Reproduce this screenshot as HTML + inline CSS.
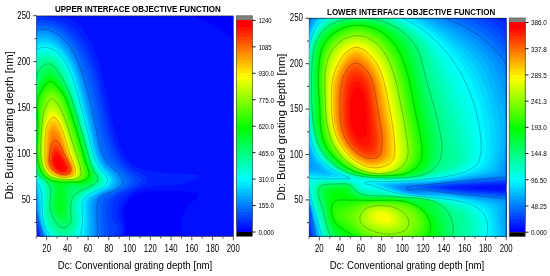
<!DOCTYPE html>
<html lang="en"><head><meta charset="utf-8"><title>Objective functions</title>
<style>html,body{margin:0;padding:0;background:#fff}svg{display:block}</style></head>
<body>
<svg width="550" height="276" viewBox="0 0 550 276" font-family="'Liberation Sans', Arial, sans-serif" fill="#000" stroke="none">
<clipPath id="cL"><rect x="36.7" y="15.9" width="196.6" height="220.4"/></clipPath>
<g clip-path="url(#cL)">
<rect x="35.7" y="14.9" width="198.6" height="222.4" fill="#0000ff"/>
<path fill="#0010ff" d="M35.7 14.9l153.9 0l1.1 1.2l5 1.4l6 2.1l5.3 2.3l6 3l8.5 5l5.8 4l5.3 4l1.1 0.5l0 198.5l-52.2 0l-0.3 -2l-0.2 -5l0.3 -7l0.7 -4l0.8 -3l1.6 -4l1.6 -3l2.1 -3l2.7 -3l2.3 -2l4.6 -3.4l1.8 -2.6l0.2 -1.2l-1 -0.8l-2 -0.1l-5 -0.9l-12 -1.1l-21 0.3l-11 0.6l-4 0.6l-2.8 0.6l-3.2 1l-3 1.4l-3 1.9l-2 1.7l-2 2.3l-1.2 1.7l-1 2l-0.7 2l-0.6 4l0 6l1.4 14l-0.8 4l-0.8 2l-86.1 0l-2.2 -9.5z"/>
<path fill="#0021ff" d="M35.7 14.9l20 0l5 1.4l8 2.6l5 2.5l5 3.7l4.6 4.8l3.6 5l3.4 6l2.8 6l3 8l3.2 10l4.2 16l8.2 37.7l3 11.6l3 9.8l3 8.3l3 6.4l2 3.2l3.3 4l3.7 3l5.8 3l5.9 2l6.3 1.5l5 0.8l7 0.6l26.4 1.1l7.6 1l1 0.4l0.6 0.6l0 1l-0.6 0.9l-1.5 1.1l-4.5 2.2l-7 2.1l-4 0.8l-7 0.8l-12 0.7l-7 0.7l-10 1.8l-4 1.2l-4 1.6l-5.2 3.1l-2.8 2.3l-2.6 2.7l-2.1 3l-1 2l-1.8 5l-0.5 3l-0.1 3l0.2 2l0.6 3l2.5 7l0.4 4l-1.1 3l-0.5 0.9l-2 2.1l-81.9 0l-3.1 -12.1z"/>
<path fill="#0031ff" d="M35.7 15.9l0 -0.4l3 -0.3l6 1l12 2.9l4 1.4l4 1.8l5 3l4.5 3.6l4.5 4.6l4.1 5.4l3.7 6l3.5 7l3 7l3.1 9l2.4 8l2.5 10l6.7 31l3 12.1l4 13.2l3.9 9.7l2 4l2.1 3.4l2 2.7l2.6 2.9l2.4 2.1l3 2.1l11 6.2l1.9 1.6l1.2 2l0.3 2l-0.3 1l-0.8 1l-1.3 1l-12.9 7l-8.2 5l-2.6 2l-1.5 2l-0.9 2l-1.6 6l-0.5 4l0 3l0.6 3l1.3 3l3.3 5.7l0.4 1.3l0.3 2l-0.5 2l-0.8 1l-4.3 4l-77.3 0l-1.6 -7l-2.2 -7.6z"/>
<path fill="#0042ff" d="M35.7 19.9l0 -0.2l2 -0.3l3 -0.1l8 0.9l7 1.8l6 2.7l5.1 3.2l4.9 4.1l5 5.5l4.7 6.4l3.6 6l3.6 7l3.1 7.5l2.6 7.5l2.3 8l2.1 8.1l6.7 30.9l2.9 12l3.3 11l3.5 9l2 4l2.3 4l2 3l2.3 2.9l5 4.7l10.1 7.4l1.8 2l0.4 1l0.1 1l-0.3 1l-2.1 2l-2.7 2l-7.3 4.2l-9 3.9l-2.9 1.9l-1.1 1l-2 3l-1.6 5l-0.9 5l0.1 4l0.7 4l1.2 3l1.1 2l3 4l0.5 1l0.2 1l-0.2 1l-0.7 1l-3.4 3.3l-1.9 2.7l-71.5 0l-1.7 -7l-2.9 -10z"/>
<path fill="#0052ff" d="M37.2 22.9l3.5 -0.4l3 -0.1l6 0.7l5.9 1.8l5.1 2.6l5 3.5l5.2 4.9l4.8 5.7l4.3 6.3l3.4 6l3.3 6.7l3 7.3l3 8.7l4 14.9l6.5 30.4l2.7 11l2.9 10l2.6 7l3.5 7l4 6l4.5 5l9.9 9l1.6 2l0.4 1l0.2 1l-0.6 2l-1.2 1.4l-2 1.6l-4 2.3l-10 4.7l-3.2 2l-3.5 3l-2.5 3l-1.3 3l-0.9 4l-0.1 4l1.8 17l-0.2 4l-0.9 4l-65.8 0l-5.4 -19.6l0 -194.2z"/>
<path fill="#0063ff" d="M40.6 24.9l5.1 0l5 0.9l5 2l5 2.9l5 4l4.1 4.2l3.9 5l3.9 6l3.7 7l3.1 7l3 8l3.3 10l4.3 17l8.7 40.3l2 7.1l2 5.5l2.5 5.1l2.8 4l3.7 4l11.4 11l1.7 2l1.1 2l0 2l-0.4 1l-0.8 1l-2.4 2l-6.7 4l-9.9 5.4l-5.3 2.6l-1.2 1l-1.1 2l-0.4 2l-0.3 6l0.1 5l1 15l0 4l-0.5 4l-61.1 0l-6.2 -22.4l0 -188.9z"/>
<path fill="#0073ff" d="M35.7 27.9l5 -0.9l5 0.1l5 1.2l5 2.2l5 3.3l5 4.4l4.9 5.7l4 6l3.7 7l2.9 7l3.9 11l3.1 10l5.1 20l8.4 39.8l1.2 4.2l1.8 5l2 4l2.8 4l2.9 3l9 8l3.5 4l1.8 3l0.3 1l-0.1 1l-0.5 1l-1.7 2l-3.5 3l-3.1 2l-4.4 2.3l-3 1.4l-6.4 2.3l-1.8 1l-1 1l-1.1 2l-0.5 2l-0.5 8l0.1 5l0.8 14l-0.1 4l-0.4 4l-57.1 0l-5 -17l-2 -8.7z"/>
<path fill="#0084ff" d="M36.3 29.9l4.4 -0.8l5 0.2l5 1.4l5 2.5l5 3.5l4.5 4.2l4.1 5l3.9 6l3 6l3 7l3.2 9l3.7 12l5.3 21l8.3 39l2.1 7l1.9 4.3l3 4.9l3 3.4l7 6l2.5 2.4l2.3 3l0.9 2l0.5 2l-0.1 2l-1 2l-1.7 2l-2.7 2l-3.7 2l-11 4.1l-1.5 0.9l-2 2l-1.1 2l-0.8 3l-0.5 4l-0.1 5l0.9 17l-0.1 4l-0.4 4l-53.7 0l-0.3 -1l-4.8 -16l-1.5 -7l-1.1 -6.1l0 -176.7z"/>
<path fill="#0094ff" d="M37.5 31.9l4.2 -0.6l2 0l3 0.5l4 1.3l5 2.6l5 3.8l4 3.9l4 5.1l3.4 5.4l3.1 6l2.9 7l3.1 9l3 10l6.1 24l7.5 35l1.3 5l1.6 4.9l2 4.2l3 4.6l3 3.2l7.8 7.1l1.6 2l1.6 3l0.5 2l-0.1 2l-0.7 2l-1.7 2l-2 1.5l-2.8 1.5l-9.2 3.5l-3 1.5l-1.5 1l-1.9 2l-1.8 3l-0.9 3l-0.3 4l0.2 6l0.7 14l-0.5 9l-50.5 0l-3.3 -10l-2.9 -11l-2.3 -14.8l0 -168.6z"/>
<path fill="#00a5ff" d="M39.2 33.9l4.5 -0.2l4 0.7l5 2l4 2.4l4 3.3l4 4.2l3.5 4.6l3.6 6l2.5 5l2.9 7l3 9l3 10l5.1 20l8.4 38.3l2.2 7.7l2.1 5l2.7 4.4l3 3.6l6.5 6l1.8 2l2 3l0.7 2l0.2 2l-0.4 2l-1.2 2l-1.1 1l-3.5 2.2l-9 3.7l-3 1.5l-3.4 2.6l-2.5 3l-1 2l-0.7 3l0 4l0.4 7l0.4 10l-0.3 11l-47.6 0l-4.4 -13l-2.3 -10l-2.6 -17.9l0 -161.1z"/>
<path fill="#00b5ff" d="M37.2 36.9l2.5 -0.7l2 -0.2l4 0.2l4 1.2l5 2.5l4 2.9l4.2 4.1l4 5l3.8 6.1l2.9 5.9l2.5 6l2.4 7l2.7 9l6 23l3.9 17l4.6 21.1l2.3 7.9l1.7 4.1l3 5l3 3.6l7.3 7.3l1.4 2l1 2l0.4 2l-0.1 2l-1 2l-1 1.2l-2 1.6l-2.2 1.2l-10.9 5l-4.2 3l-2.8 3l-1 2l-0.6 3l0 3l0.4 6l0.5 9l-0.3 14l-44.7 0l-2.2 -5.4l-2.2 -6.6l-2.2 -9l-0.9 -6l-1.2 -11l-1.5 -6.9l0 -154.5z"/>
<path fill="#00c5ff" d="M38.7 38.9l4 -0.6l4 0.4l5 1.8l4 2.3l4 3.2l4 4.3l3.4 4.6l3.6 6l2.8 6l2.3 6l2.3 7l2.9 10l6.2 24l7.5 33.3l2.1 7.7l2.2 5l2.7 4.7l3 3.7l6.4 6.6l1.5 2l0.9 2l0.4 2l-0.2 2l-1 1.9l-1 1.1l-1.2 1l-2.8 1.7l-9 4.3l-3.5 2l-4 3l-1.7 2l-0.9 2l-0.5 3l0.1 3l0.5 7l0.4 7l-0.5 15l-41.9 0l-2.9 -7l-2 -6l-1.3 -5l-0.8 -5l-1.8 -17l-0.9 -4l-1.3 -4.2l0 -148.7z"/>
<path fill="#00d6ff" d="M40.6 40.9l4.1 -0.2l4 0.8l4 1.7l4 2.5l3.6 3.2l3.4 3.9l3.6 5.1l2.9 5l2.4 5l2.3 6l5.1 17l7 27l7.4 32l1.8 6l2.1 5l2.4 4.1l3 3.8l5.8 6.1l1.4 2l0.9 2l0.4 2l-0.3 2l-1.2 2l-1 1l-4 2.7l-12.4 6.3l-3.6 2.6l-2 2.3l-0.9 2.1l-0.4 3l0.1 4l0.7 7l0.2 6l-0.6 8l-0.1 7l-39 0l-3 -6.2l-2.6 -7.8l-0.9 -4l-0.9 -5l-1.1 -14l-0.5 -4l-1.2 -5l-1.8 -4.9l0 -143.4l2 -0.9z"/>
<path fill="#00e6ff" d="M38.4 43.9l2.3 -0.7l2 -0.2l4 0.2l4 1.1l4 2.2l4 3.1l4 4.3l3.6 5l3 5l2.3 5l2.4 6l5.2 17l7.1 27l7.4 31.7l1.9 6.3l2.1 4.8l2 3.5l2.7 3.7l6.3 7l1.6 3l0.3 2l-0.4 2l-1.3 2l-1 1l-4.6 3l-12 6l-2.9 2l-1.8 2l-1.3 3l-0.4 3l0.1 4l0.6 7l0.1 6l-0.8 8l0 7l-36.2 0l-3.2 -6l-1.6 -4l-1.2 -4l-1 -4.5l-0.7 -4.5l-0.8 -14l-0.6 -5l-1.6 -6l-2.3 -5.2l0 -138.5z"/>
<path fill="#00f7ff" d="M39.6 45.9l3.1 -0.7l4 0.1l4 1.1l4 2.1l4 3.3l3.8 4.1l3.2 4.5l3 5.2l2 4.3l2.4 6l5.2 17l5.9 22l8.5 34.9l2 6.9l2 4.9l2.4 4.3l2.6 3.6l5.5 6.4l1.6 3l0.3 2l-0.5 2l-0.9 1.5l-1.5 1.5l-4.5 2.9l-8.6 4.1l-3.7 2l-2.7 2l-1.7 2l-1.2 3l-0.4 3l0 4l0.5 6l0.3 7l-1.3 9l0.1 6l-33.2 0l-2.1 -3.2l-1.4 -2.8l-1.6 -3.7l-1.1 -3.3l-1 -4l-0.9 -6l-0.6 -15l-0.8 -6l-0.7 -3l-1.1 -3l-2.8 -5.2l0 -134z"/>
<path fill="#00fff7" d="M40.7 47.9l3 -0.6l4 0.2l3 0.9l4 2.2l4 3.3l3 3.3l3.4 4.7l2.8 5l2.4 5l2.2 6l5.3 17l6.5 24l8.4 33.8l2 6.2l2 4.6l1.9 3.4l7.2 9l1.6 3l0.3 2l-0.6 2l-1.4 2l-1.1 1l-3.9 2.5l-12 5.8l-3 2.2l-2.1 2.5l-1.2 3l-0.5 4l0.8 12.6l-0.1 4.4l-1.6 9l0.1 5l-30 0l-2.4 -3.2l-2 -3.5l-2 -5l-1 -3.5l-1.2 -7.8l-0.5 -16l-0.7 -6l-1.1 -4l-0.8 -2l-1.1 -2l-2.6 -3.8l0 -129.8l2 -1.2z"/>
<path fill="#00ffe6" d="M41.6 49.9l3.1 -0.5l4 0.4l4 1.6l3 1.9l3 2.7l3.4 3.9l2.7 4l2.7 5l2.2 4.9l2.3 6.1l5.9 19l5.5 20l8.3 32.6l2 6.8l2 5l1.9 3.6l6.9 9l1.5 3l0.2 2l-0.6 2l-0.9 1.4l-1.6 1.6l-3.4 2.2l-8.3 3.8l-3.8 2l-2.7 2l-2.2 2.5l-1.2 2.5l-0.9 4l-0.1 4l0.7 8l0.1 3l-0.2 3l-1.7 8l-0.7 6l-26.2 0l-2.8 -3.4l-2 -3.2l-2 -4.4l-1 -3.2l-1 -4.8l-0.4 -4l-0.3 -17l-0.9 -7l-0.7 -3l-0.9 -2l-1.4 -2l-3.4 -4.2l0 -125.7l3 -2z"/>
<path fill="#00ffd6" d="M42.4 51.9l3.3 -0.4l3 0.3l4 1.5l3 2l3 2.8l3 3.6l2.7 4.2l2.3 4.3l2.5 5.7l2.3 6l5.7 18l5 18l9.5 36l2 6.5l1.4 3.5l1.6 3l6.6 9l1.4 3l0.2 2l-0.7 2l-0.6 1l-1.9 1.8l-3.4 2.2l-8.6 4l-3.6 2l-2.6 2l-2.3 3l-1.4 3l-0.7 4l0 4l0.7 8l0 3l-0.4 3l-2.5 11l-0.7 2l-21.9 0l-2.6 -2.6l-3 -4.1l-2 -4l-1.6 -5.3l-0.6 -4l-0.4 -4l-0.1 -17l-0.3 -4l-0.6 -4l-0.6 -2l-1 -2l-5.8 -6.5l0 -121.7l3 -2.3z"/>
<path fill="#00ffc5" d="M43.1 53.9l3.6 -0.4l3 0.5l3 1.3l3 2l2.7 2.6l2.5 3l2.5 4l2.7 5l2.6 5.9l2.3 6.1l6.1 19l5.1 18l8.8 33l2.2 7l2.6 6l1.9 3l4.4 6l1.3 3l0.1 2l-0.2 1l-1.2 2l-0.9 1l-3.5 2.4l-9 4.2l-3 1.7l-3.4 2.7l-2.4 3l-1.4 3l-0.8 4l0 4l0.7 9l-0.3 4l-1.4 5.9l-1.7 5.1l-1.8 3l-16.6 0l-3.9 -3.3l-2.9 -3.7l-1.7 -3l-1.4 -3.6l-1 -4.4l-0.8 -9l0.1 -17l-0.4 -4l-0.7 -3l-0.9 -2l-0.7 -1l-4.6 -4.3l-2 -2.4l0 -117.6l3 -2.7l2 -1.1z"/>
<path fill="#00ffb5" d="M43.8 55.9l2.9 -0.4l3 0.5l3 1.2l3 2.1l2.6 2.6l2.2 3l2.5 4l2.7 5.2l4.5 10.8l6 18l16.5 58.7l2.3 5.3l1.7 2.9l4.4 6.1l1.2 3l0 2l-0.3 1l-1.3 2l-1 1l-3.1 2l-8.4 4l-3.6 2l-3.7 3l-2.3 3l-1.5 3l-0.9 4l0 4l0.7 7l0.1 3l-0.7 5l-1.3 4l-1.2 3l-2.1 3.1l-2.5 1.9l-8.9 0l-3.6 -1.9l-2 -1.5l-2 -1.9l-2.1 -2.7l-1.9 -3.5l-1 -2.7l-1 -4.4l-0.6 -5.4l-0.3 -5l0.3 -15l-0.3 -4l-0.6 -3l-0.5 -1.3l-1.1 -1.7l-5.9 -5.3l-2 -2.6l0 -113.4l2 -2.2l2 -1.6l2 -1.2z"/>
<path fill="#00ffa5" d="M44.4 57.9l3.3 -0.3l3 0.6l3 1.5l2 1.6l2.3 2.6l2.7 3.9l3 5.3l2.4 4.8l4.5 11l5.4 16l16.5 58l2.2 5l5.3 8l1.1 3l0 2l-0.4 1l-0.5 1l-1.5 1.6l-3 2l-9 4.3l-3.6 2.1l-3.6 3l-2.4 3l-1.4 3l-0.9 4l0 4l0.7 7l0 5l-1.4 5l-2.4 4.6l-1.2 1.4l-1.8 1.5l-3 1l-2 0.1l-2 -0.3l-2 -0.6l-2 -1l-2 -1.4l-2 -1.9l-2 -2.4l-2 -3.7l-1 -2.9l-1 -4.6l-0.6 -4.8l-0.3 -5l0.5 -15l-0.3 -3l-0.7 -3l-0.8 -2l-0.7 -1l-2 -2l-4.8 -4l-2.3 -3.1l0 -108.8l2 -2.7l2 -1.9l2.2 -1.5z"/>
<path fill="#00ff94" d="M45.1 59.9l2.6 -0.3l3 0.5l3 1.6l2 1.8l2 2.4l3 4.6l3 5.3l2.5 5.1l4.2 10l4.8 14l16.5 57.6l2.2 5.4l5.1 8l1.1 3l-0.2 2l-0.4 1l-1.8 2.1l-3 2l-12 6.1l-3.7 2.8l-2.7 3l-1.7 3l-1.1 4l-0.2 5l0.7 6l0.1 5l-0.9 4l-0.9 2l-1.6 2.5l-1 1.2l-1.7 1.3l-1.3 0.7l-2 0.5l-3 -0.1l-2 -0.7l-2 -1.1l-3 -2.5l-2.1 -2.8l-1.9 -3.8l-1 -3.2l-1.1 -5l-0.6 -4l-0.2 -4l0.6 -14l-0.3 -3l-0.7 -3l-1.6 -3l-1.9 -2l-5.2 -4.1l-1.6 -1.9l-1.4 -2.4l0 -103.7l2 -3.3l2 -2.3l3 -2.3z"/>
<path fill="#00ff84" d="M46 61.9l2.7 -0.3l2 0.5l2 1l2.1 1.8l2.9 3.6l3 4.7l3 5.2l3 6l4.3 10.5l4.1 12l9.1 31l7 25l2.5 6l3.7 6l1.4 3l0.1 2l-0.2 1l-1 1.6l-1.4 1.4l-3.1 2l-12.2 6l-3.9 3l-2.4 2.7l-1.7 3.3l-0.9 4l-0.2 4l0.6 6l0.2 5l-0.5 3l-1.5 3.2l-1 1.3l-2 1.8l-1.2 0.7l-1.8 0.6l-3 -0.1l-3 -1.3l-1.5 -1.2l-1.5 -1.6l-2 -2.9l-2 -4.1l-1.5 -4.4l-0.9 -4l-0.4 -4l-0.1 -3l0.8 -9l0 -3l-0.3 -3l-0.8 -3l-1 -2l-1.7 -2l-7.1 -6l-1.5 -2l-1.5 -3l0 -97.2l1.4 -3.8l2.6 -3.7l3 -2.7l2 -1.2z"/>
<path fill="#00ff73" d="M47.3 63.9l2.4 0l2 0.8l2 1.6l2 2.2l3 4.1l3.4 5.3l3.3 6l2.8 6l3.8 10l3.3 10l9.1 31l6.2 22l2.1 5.4l4.2 7.6l0.8 2l0.1 2l-0.4 1l-0.7 1.1l-2 1.9l-4 2.3l-12.3 5.7l-2.7 1.9l-2 2.1l-1.6 3l-1.1 4l-0.4 4l0.2 5l0.4 6l-0.2 3l-1.3 3.3l-2 2l-2 1.2l-1 0.3l-1 0.2l-2 -0.3l-2 -1l-3 -3l-2 -2.8l-2 -3.6l-1.3 -3.3l-1.1 -4l-0.3 -3l-0.1 -3l0.9 -9l0 -3l-0.3 -3l-0.5 -2l-1 -2l-1.4 -2l-2.9 -2.7l-4.1 -3.3l-2 -2l-1.9 -3l-1 -2.7l0 -88l1.3 -3.3l0.3 -4l0.8 -2l1.2 -2l1.6 -2l2.2 -2l1.6 -1z"/>
<path fill="#00ff63" d="M45.9 66.9l1.8 -0.6l1 -0.1l2 0.5l2 1.3l2 1.9l3 3.6l3.7 5.4l3.3 5.8l3 6.2l3.6 9l3.6 11l8.9 30l6.2 22l1.7 4.6l4.2 8.4l0.7 2l-0.1 2l-1.2 2l-2.4 2l-3.2 1.8l-5 2.1l-4 1.2l-3 0.5l-4 -0.4l-1 0.2l-0.6 0.6l-0.4 4l-2 8.7l-0.4 6.3l0.3 7l-0.1 3l-0.5 2l-1.3 2.1l-2 1.4l-1 0.3l-2 0.1l-1 -0.3l-2 -1.1l-3 -3l-2 -2.8l-1.4 -2.7l-1.5 -4l-0.6 -3l-0.2 -5l1 -8l0.1 -3l-0.3 -3l-0.5 -2l-1.1 -2l-1.7 -2l-7.2 -6l-2 -2l-1.9 -3l-1.7 -4.7l0 -83.1l2.5 -5.2l0.8 -4l0.7 -2l1.3 -2l1.7 -1.8z"/>
<path fill="#00ff52" d="M48.6 68.9l2.1 0.4l2 1.2l2 1.7l3 3.4l3 4.3l2.4 4l2.6 4.7l2.5 5.3l3.1 8l3.9 12l8 27l6.2 22l2.3 6l2.8 6l0.9 3l-0.3 2l-1.4 2l-3 2.2l-5 2.2l-3 0.8l-2 0.3l-2 0l-6 -1.1l-2 0.1l-1.4 0.5l-0.8 1l-0.2 1l0.8 6l-1 11l0 8l-0.3 3l-0.5 2l-0.6 1.1l-0.8 0.9l-1.2 0.7l-1 0.3l-2 -0.3l-1 -0.4l-2 -1.4l-2 -2l-1.3 -1.9l-1.5 -3l-1.1 -3l-0.5 -3l-0.1 -4l1.2 -11l-0.2 -3l-0.4 -2l-0.5 -1l-1.8 -2l-7.3 -6l-3.5 -3.4l-1.1 -1.6l-1.1 -2l-1.8 -5.8l0 -78.4l3.5 -6.8l1.7 -5l1.1 -2l1.7 -1.8l1.6 -1.2l1.4 -0.7z"/>
<path fill="#00ff42" d="M46.5 71.9l2.2 -0.5l2 0.4l2 1l3 2.5l3 3.7l3 4.5l3 5l3 5.9l2.9 7.5l4.1 12.6l7.1 23.4l7 25l4.4 11l0.9 3l-0.1 2l-0.4 1l-0.9 1.3l-3 2.3l-4 1.7l-3 0.6l-2 0.2l-7 -0.9l-3 0l-2 0.3l-1.2 0.5l-0.8 1l-0.4 2l0.9 7l-0.2 7l-0.5 11l-0.4 2l-1.1 2l-1.3 0.9l-2 0.2l-2 -0.8l-2.5 -2.3l-1.3 -2l-1.2 -2.5l-0.8 -2.5l-0.5 -3l0.1 -4l1.2 -9l0 -4l-0.3 -2l-0.4 -1l-0.8 -1l-9.4 -7l-2.2 -2l-1.7 -2l-1.3 -2l-0.9 -2l-1 -3l-1 -4.1l0 -73.4l7 -14.1l2 -2.3z"/>
<path fill="#00ff31" d="M47.7 73.9l2 -0.1l2 0.5l2 1.2l3 2.9l3 3.9l3 4.6l3 5.1l2 4.1l2.3 5.8l2.9 9l7.8 25.3l7.2 25.7l4.1 11l0.9 3l0 2l-0.2 0.9l-1 1.7l-2 1.7l-3 1.5l-3 0.8l-3 0.3l-8 -0.6l-3 0.1l-3 0.5l-1 0.7l-0.8 1.4l-0.3 3l0.8 8l0.1 4l-0.3 9l-0.5 2.7l-0.6 1.3l-0.4 0.6l-1 0.8l-1 0.2l-1 -0.2l-2 -1.3l-1 -1.2l-2 -3.9l-0.9 -4l0.1 -4l1.4 -9l0 -4l-0.5 -3l-0.7 -1l-1.4 -1l-4 -2.2l-4 -2.7l-3.5 -3.1l-1.7 -2l-1.7 -3l-1.2 -3l-1.1 -4l-0.8 -4l0 -67.5l2.4 -5.5l5.6 -9.9l2 -2.1z"/>
<path fill="#00ff21" d="M48.5 75.9l2.2 0.1l2 0.7l2 1.5l2 2l3 4l4 5.9l2 3.5l2 4.2l2.3 6.1l4.7 14.7l6 19.6l6.3 22.7l4 11l0.8 3l0.1 2l-0.2 1l-1 1.9l-2 1.7l-3 1.4l-2 0.6l-3 0.3l-8 -0.2l-5 0.1l-2 0.4l-1.5 0.8l-0.9 2l-1 5l0.1 2l1.1 6l0.3 3l0 3l-0.3 3l-0.7 3l-1.1 1.4l-1 0.1l-1 -0.6l-1 -1.1l-1 -1.7l-0.8 -2.1l-0.5 -3l0.2 -3l1.7 -7l0.3 -2l-1 -7l-0.4 -1l-1.2 -1l-5.3 -2.2l-4 -2.4l-2.9 -2.4l-2.7 -3l-1.8 -3l-1.5 -4l-1 -4l-0.9 -5l-0.2 -2.3l0 -13.9l0.7 -14.8l-0.2 -5l-0.5 -5l0 -21.1l1 -3.1l1.7 -3.8l5.3 -9.2l2 -2.4l1 -0.7z"/>
<path fill="#00ff10" d="M48.5 77.9l1.2 -0.2l2 0.4l2 1.1l2 1.8l3 3.6l4 5.5l2.3 3.8l2 4l2.6 7l5.1 15.7l6 19.8l5.4 19.5l4.5 13l0.3 3l-0.4 2l-0.8 1.2l-2.1 1.8l-2.9 1.3l-3 0.7l-3 0.2l-5 -0.1l-7 0.2l-3 0.5l-1 0.5l-0.6 0.7l-0.4 1.3l-1 0.9l-1 -1.2l-0.2 -1l-0.8 -1l-2.4 -1l-4.6 -1.3l-2 -0.9l-4 -2.6l-2.4 -2.2l-1.6 -2l-1.8 -3l-1.2 -3l-1.2 -4l-1.1 -6l-0.4 -6l0 -6l0.9 -20l-0.2 -6l-1 -8.6l0 -10.9l0.7 -3.5l1 -3l1.3 -3.1l2 -3.8l3 -4.8l1.8 -2.3l1.2 -1.1zM59.6 202.9l0.1 -0.2l1 0.2l0.5 1l0.1 1l-0.1 1l-0.5 1l-1 0.1l-0.6 -1.1l-0.3 -1l0.2 -1z"/>
<path fill="#00ff00" d="M48.3 79.9l1.4 -0.3l2 0.3l2 1.1l2 1.9l4 4.7l3 4l2 3.3l2 4l2.2 6l6.8 21l4 13.2l5.8 20.8l4.1 12l0.4 2l-0.1 2l-0.7 2l-1.5 1.6l-2 1.2l-3 1.1l-3 0.6l-3 0.2l-10 0.1l-6 0.3l-7 -1.4l-4 -1.4l-4 -2.6l-1.8 -1.7l-1.7 -2l-2.2 -4l-1.8 -5l-1.2 -6l-0.5 -7l0 -7l1 -19l-0.2 -6l-1.1 -12l0.2 -6l1.4 -6l2.6 -6l4.5 -7l1.8 -2z"/>
<path fill="#10ff00" d="M48.4 81.9l1.3 -0.4l2 0.3l1 0.4l2 1.6l4 4.2l3 3.7l2 3l2 3.8l2.5 6.4l6.5 20l5 16.6l4.5 16.4l4.4 13l0.4 2l0.1 2l-0.4 1.5l-1 1.6l-2 1.6l-2 1l-3 1l-3 0.4l-17 0.2l-6 -0.8l-4 -1.2l-4 -2.2l-3.2 -3.1l-2.5 -4l-2 -5l-1.5 -7l-0.6 -8l0.1 -7l1 -18l-0.1 -6l-0.8 -11l0.2 -6l0.5 -3l0.8 -3l2.1 -5l2 -3.5l2 -2.8l2 -2.4z"/>
<path fill="#21ff00" d="M49.2 83.9l1.5 -0.2l2 0.6l4 3.3l3 3.2l2 2.5l2 3.1l1.7 3.5l2.3 6l7 21.5l4 13.2l5.4 19.3l3.6 10.7l0.5 2.3l-0.1 2l-0.9 2l-0.8 1l-1.7 1.3l-2 1.1l-3 0.9l-3 0.4l-8 0.2l-8 -0.1l-7 -1l-4 -1.4l-3.7 -2.4l-2.8 -3l-2.2 -4l-1.8 -5l-1.3 -7l-0.6 -8l0.2 -6l1 -18l-0.6 -17l0.4 -6l0.5 -3l0.9 -2.9l2.3 -5.1l1.7 -2.7l2 -2.5l2 -2z"/>
<path fill="#31ff00" d="M48 86.9l1.7 -0.8l1 -0.1l1 0.1l2 0.9l2 1.5l3 2.8l3.6 4.6l1.7 3l1.7 4l8 24.1l4 13l5.4 18.9l3.6 11l0.5 3l-0.2 2l-0.4 1l-1.6 2l-3.1 2l-4.2 1.2l-6 0.4l-10 -0.2l-7 -0.8l-4 -1.2l-2 -0.9l-2 -1.4l-2.2 -2.1l-2.5 -4l-2 -5l-1.5 -7l-0.7 -9l0.2 -7l1 -17l-0.2 -15l0.2 -6l1 -5l1.8 -5l2.9 -4.7l2 -2.3z"/>
<path fill="#42ff00" d="M48.4 88.9l1.3 -0.6l2 -0.1l2 0.7l2 1.3l2 1.7l2.7 3l1.4 2l1.9 3.6l2 5l6 18.1l13.8 45.3l0.6 3l0 2l-0.7 2l-0.7 1l-2 1.8l-2 1.1l-2 0.6l-2.9 0.5l-7.1 0.3l-8 -0.4l-6 -0.7l-4 -1.2l-3.6 -2l-2.8 -3l-2.4 -4l-1.5 -4l-1.5 -7l-0.6 -9l0.1 -7l1.1 -17l0 -13l0.3 -6l1.1 -6l1.8 -5l1.1 -2l1.9 -2.7z"/>
<path fill="#52ff00" d="M48.6 90.9l1.1 -0.5l2 -0.2l1 0.2l2 0.9l3 2.4l3 3.6l2 3.6l2 4.8l7 21.1l11.9 39.1l1.5 6l-0.1 2l-0.2 1l-1.2 2l-1 1l-1.9 1.2l-2 0.9l-2 0.4l-6 0.4l-9 -0.2l-7 -0.9l-4 -1.2l-3 -1.7l-2.9 -2.9l-2.4 -4l-1.5 -4l-1 -4l-0.7 -4l-0.5 -9l0.2 -7l1.1 -16l0.2 -11l0.4 -6l1 -6l1.6 -5l0.9 -2l1.6 -2.4l1.6 -1.6z"/>
<path fill="#63ff00" d="M48.9 92.9l1.8 -0.7l1 0l2 0.4l2 1.2l3.1 3.1l2.9 4.7l2 4.7l4.8 13.6l12.8 41l2.6 10l0.2 2l-0.4 2l-1.1 2l-1 1l-1.6 1l-2.3 0.9l-3 0.5l-7 0.2l-7 -0.3l-6 -0.9l-4 -1.2l-3 -1.8l-2.4 -2.4l-2.5 -4l-1.5 -4l-1 -4l-0.6 -4l-0.5 -9l0.3 -8l1 -15l0.5 -13l1.1 -7l1.7 -6l2 -4l1.7 -2z"/>
<path fill="#73ff00" d="M49.2 94.9l1.5 -0.6l1 -0.1l1 0.1l2 0.8l1.2 0.8l1.9 2l3 5l2.9 6.8l3.7 10.2l13.3 41.8l2.2 9.2l0.1 2l-0.3 2l-1.1 2l-1.9 1.5l-2 0.9l-4 0.7l-7 0.2l-7 -0.5l-5 -0.7l-4 -1.3l-3 -1.9l-2.7 -2.9l-2.2 -4l-1.3 -4l-0.9 -4l-0.6 -4l-0.4 -9l0.3 -7l1.8 -27l1.1 -6l2.1 -7l1.8 -3.5l1 -1.3z"/>
<path fill="#84ff00" d="M49.7 96.9l1 -0.5l2 -0.1l1.4 0.6l1.3 1l1.3 1.4l2 3l3 5.8l2.8 6.8l2.9 8l6.2 20l4.8 14l1.8 6l1.2 5l0.6 4l0 2l-0.6 2l-0.7 1l-1.1 1l-1.9 1l-3 0.7l-3 0.3l-6 0l-7 -0.6l-5 -0.9l-3 -1.1l-3 -2l-2.2 -2.4l-2.2 -4l-1.4 -4l-0.9 -4l-0.5 -4l-0.4 -9l0.3 -8l1.8 -24l1.2 -6l2.3 -6.9l2 -4.1z"/>
<path fill="#94ff00" d="M51.2 98.9l1.5 -0.1l1 0.6l3 3.3l3 4.5l3.3 6.7l4.1 11l5.6 18.2l5.1 14.8l2.1 7l1.2 7l0 2l-0.5 2l-0.9 1.1l-2 1.3l-3 0.9l-4 0.5l-5 0l-7 -0.7l-5 -1l-3 -1.2l-3 -2l-2.4 -2.9l-2 -4l-1.3 -4l-1.1 -8l-0.3 -9l0.4 -9l1.8 -21l1 -5l2.9 -7.2l2 -3.6l1 -1.2z"/>
<path fill="#a5ff00" d="M50.9 102.9l0.8 -0.3l1 0l1 0.5l2 1.6l3 3.6l2 3.3l1.6 3.3l3.9 10l6.5 21l4.6 13l1.8 6l1.2 7l0 2l-0.6 2l-1 1.1l-2 1.2l-2.4 0.7l-3.6 0.4l-5 0.1l-7 -0.7l-5 -1.1l-3 -1.2l-3 -2.2l-1.9 -2.3l-1.7 -3l-1.4 -4l-0.8 -4l-0.5 -4l-0.3 -10l0.5 -11l1.8 -18l0.8 -4l1.5 -3.9l3 -5.1l1 -1.1z"/>
<path fill="#b5ff00" d="M51.6 105.9l1.1 -0.1l1 0.3l1 0.5l2 1.6l3 3.9l2.5 4.8l3.9 10l5.6 18.6l5.4 15.4l1.4 5l1 6l0 2l-0.7 2l-0.9 1l-1.8 1l-2.4 0.7l-4 0.5l-5 0l-6 -0.7l-5 -1.2l-3 -1.3l-2.7 -2l-1.7 -2l-1.8 -3l-1.4 -4l-0.8 -4l-0.4 -4l-0.3 -12l0.7 -11l1.6 -14l1 -5l1.8 -4.3l2 -2.8l2 -1.6z"/>
<path fill="#c5ff00" d="M50.3 108.9l1.4 -0.6l1 -0.1l1 0.2l2 1.1l3 3.1l2.5 4.3l2.2 5l2.3 6l5.6 19l6.2 18l1.3 6l0 2l-0.4 2l-0.7 1.2l-0.9 0.8l-1.1 0.6l-2 0.7l-3 0.5l-5 0.2l-5 -0.4l-5 -1l-4 -1.5l-3 -2l-1.9 -2.1l-1.9 -3l-1.1 -3l-1.2 -6l-0.5 -9l0.1 -10l0.8 -10l1.6 -11l1.1 -4.5l1 -2.4l1 -1.6l1 -1.2z"/>
<path fill="#d6ff00" d="M50.4 110.9l1.3 -0.6l1 -0.1l1 0.2l2 0.9l1.7 1.6l1.3 1.6l2.5 4.4l2.2 5l1.8 5l5.5 18.5l6.1 17.5l0.8 3l0.5 3l0 2l-0.5 2l-0.7 1l-1.2 1l-2.6 1l-2.4 0.5l-5 0.2l-5 -0.4l-5 -1.1l-3.2 -1.2l-2.8 -1.7l-2.4 -2.3l-1.9 -3l-1.2 -3l-0.7 -3l-0.4 -3l-0.4 -9l0 -10l0.7 -9l1.3 -8.6l1.5 -6.4l1.5 -3.3l1 -1.3z"/>
<path fill="#e6ff00" d="M50.2 112.9l1.5 -0.7l1 -0.2l2 0.5l1 0.5l1 0.9l1.7 2l2.3 3.9l2 4.4l2 5.3l5.7 19.4l5.8 16l1.1 5l0.1 2l-0.2 2l-0.5 1l-0.8 1l-1.2 0.9l-4 1.2l-4 0.4l-5 -0.3l-5 -1l-3.3 -1.2l-2.7 -1.5l-2.8 -2.5l-2.1 -3l-1.2 -3l-1 -5l-0.4 -9l0 -10l0.6 -9l1.1 -7l1.8 -7.5l1.6 -3.5z"/>
<path fill="#f7ff00" d="M51.6 113.9l2.1 -0.2l2 1l1 0.8l2 2.6l3 5.7l3.1 8.1l5.5 19l5.8 16l0.6 3l0.1 2l-0.4 2l-0.5 1l-1 1l-1.7 1l-3.8 1l-4.7 0.2l-4 -0.4l-4 -1l-4 -1.6l-3 -2l-2 -2l-2 -3.2l-1 -3l-0.7 -5l-0.3 -13l0.2 -9l0.7 -7l1.1 -5.9l2 -6.4l1 -2l1 -1.4z"/>
<path fill="#fff700" d="M51.2 115.9l1.5 -0.6l1 0l2 1l2 2.2l3 5.2l1.9 4.2l1.4 4l5.9 20l5.3 14l0.7 3l0.3 2l-0.2 2l-0.4 1l-0.6 1l-1.3 1.1l-1.8 0.9l-2.2 0.6l-4 0.4l-4 -0.4l-4 -0.8l-4 -1.5l-2.2 -1.3l-2.8 -2.3l-2 -2.7l-1.3 -3l-0.7 -3l-0.3 -5l-0.1 -15l0.6 -10l0.8 -5l2 -6.5l2 -3.9z"/>
<path fill="#ffe600" d="M51.4 117.9l1.3 -0.8l1 -0.1l2 1.1l2 2.3l3 5.2l3 7.6l5.5 18.7l5.4 14l0.8 3l0.1 2l-0.2 2l-0.4 1l-0.7 1l-1.3 1l-3.2 1.2l-4 0.5l-4 -0.3l-4 -0.9l-3 -1.2l-3 -1.7l-3 -2.6l-2 -2.8l-1 -2.5l-0.6 -2.7l-0.3 -4l0.1 -18l0.5 -8l1 -5l1.3 -4l2 -3.9z"/>
<path fill="#ffd600" d="M51.8 119.9l0.9 -0.6l1 -0.1l1 0.3l1 0.7l3 3.8l2 3.7l2.7 7.2l5 17l5 12l1 3l0.5 4l-0.3 2l-0.5 1l-0.8 1l-1.4 1l-3.2 1.1l-4 0.3l-4 -0.4l-3.5 -1l-3.5 -1.6l-3 -2.1l-2 -2l-1.6 -2.3l-1.1 -3l-0.5 -3l-0.2 -4l0.3 -18l0.5 -7l0.8 -4l1.4 -4l1.4 -2.6z"/>
<path fill="#ffc500" d="M52.4 121.9l1.3 -0.4l1 0.3l1 0.6l2 2.2l2 3.3l3 7.5l5.4 17.5l4.7 11l1 3l0.5 2l0.1 2l-0.5 2l-0.5 1l-0.9 1l-1.6 1l-3.2 0.9l-3 0.2l-4 -0.4l-4 -1.3l-2.9 -1.4l-2.8 -2l-2 -2l-1.4 -2l-1.2 -3l-0.5 -3l-0.1 -3l0.4 -19l0.5 -6.3l1 -4.6l1 -2.6l2 -3.1z"/>
<path fill="#ffb500" d="M53.4 123.9l1.3 0.2l2 1.4l1.7 2.4l1.3 2.3l2 5l5.7 17.7l4.9 11l1 3l0.5 3l-0.2 2l-0.3 1l-0.6 1l-1.1 1l-1.8 1l-2.1 0.6l-3 0.2l-4 -0.5l-3 -0.8l-3.2 -1.5l-2.9 -2l-2 -2l-1.9 -2.9l-0.8 -2.1l-0.5 -3l-0.1 -4l0.7 -18l0.5 -6l0.9 -4l1.3 -2.9l2 -2.4z"/>
<path fill="#ffa500" d="M51.8 126.9l0.9 -0.5l1 -0.2l1 0.2l0.9 0.5l1.1 1l2 3l3 7.2l5.4 15.8l5.4 12l0.5 2l0.3 2l-0.6 2.8l-0.8 1.2l-1.2 1l-2.2 1l-3.8 0.5l-3 -0.3l-3 -0.7l-3 -1.3l-3 -1.9l-2 -1.8l-2 -2.5l-1 -2.1l-0.7 -2.9l-0.2 -4l1.2 -22l0.6 -4l0.7 -2l1.4 -2.9z"/>
<path fill="#ff9400" d="M53.1 128.9l0.6 -0.1l1 0.2l1 0.6l1.2 1.3l1.8 2.9l4 9.7l3.7 10.4l4.4 9l1.5 4l0.4 3l-0.3 2l-0.5 1l-0.8 1l-1.4 1l-3 1l-2 0.1l-3 -0.2l-3.4 -0.9l-2.6 -1.2l-2.7 -1.8l-2.1 -2l-1.6 -2l-1.3 -3l-0.6 -3l-0.1 -4l0.8 -11l1 -10l0.6 -3.3l1 -2.5l1 -1.4z"/>
<path fill="#ff8400" d="M53.6 131.9l1.1 0.1l1 0.7l1 1.1l2 3.3l3 6.3l4.4 11.5l4.1 8l1.2 3l0.7 3l-0.1 2l-0.2 1l-0.6 1l-0.9 1l-2.6 1.3l-2 0.4l-3 0l-3 -0.6l-3 -1.2l-3 -1.9l-2.2 -2l-1.8 -2.4l-1.2 -2.6l-0.6 -3l-0.1 -3l1.2 -13l1.7 -10.1l1 -2.4l1 -1.2z"/>
<path fill="#ff7300" d="M52.9 136.9l0.8 -0.7l1 -0.1l1 0.5l2 2.2l2 3l2 3.9l3.6 9.2l4.4 8.2l1.2 2.8l0.7 3l-0.2 2l-0.3 1l-0.7 1l-1 1l-2.7 1.1l-2 0.3l-3 -0.2l-3 -0.8l-2.8 -1.4l-2.7 -2l-1.9 -2l-1.3 -2l-0.9 -2l-0.6 -3l-0.1 -3l1 -10l1.3 -6.2l1 -3.3z"/>
<path fill="#ff6300" d="M54.2 140.9l0.5 -0.3l1 0l1 0.4l1 0.7l2 2.5l2 3.7l2.9 7l4.1 7.5l1.6 3.5l0.7 3l-0.3 2.2l-1.1 1.8l-1.3 1l-1.6 0.6l-2 0.4l-3 -0.2l-2.9 -0.8l-2 -1l-2.1 -1.4l-2 -1.8l-2 -2.8l-0.9 -2l-0.7 -3l-0.1 -3l1 -9l0.7 -3.2l1 -2.6l1 -1.8z"/>
<path fill="#ff5200" d="M54.3 143.9l1.4 -0.4l1 0.2l1 0.5l2 2.3l2 3.7l2.6 5.7l4.4 7.8l1 2.2l0.6 3l0 1l-0.6 1.7l-1 1.3l-1.8 1l-1.2 0.3l-2 0.2l-2 -0.1l-3 -0.9l-2 -1.1l-2 -1.4l-1.9 -2l-1.4 -2l-0.9 -2l-0.6 -2l-0.3 -3l0.1 -3l0.6 -4l1.4 -5.5l1 -2z"/>
<path fill="#ff4200" d="M53.9 146.9l0.8 -0.6l1 -0.3l1 0.1l1 0.5l1 0.9l2 2.9l2.7 5.5l5.3 9.3l0.8 2.7l0 2l-0.3 1l-0.6 1l-1.1 1l-2.8 0.9l-2 0.1l-2 -0.4l-1.9 -0.6l-1.8 -1l-1.4 -1l-2 -2l-1.4 -2l-1 -2l-0.6 -2l-0.3 -2l0.3 -5l1.5 -6l0.6 -1.4z"/>
<path fill="#ff3100" d="M54.6 148.9l1.1 -0.5l1 0.1l1 0.4l2 2.1l8.1 13.9l1 3l-0.1 2l-0.4 1l-0.8 1l-1.6 1l-2.2 0.4l-2 -0.1l-1.3 -0.3l-2.3 -1l-1.5 -1l-1.9 -1.7l-1.1 -1.3l-1.2 -2l-0.8 -2l-0.4 -2l-0.2 -2l0.3 -3l0.4 -2.2l1 -3.1l1 -1.8z"/>
<path fill="#ff2100" d="M55.7 150.9l1 -0.1l1 0.4l2 1.9l2 3l5.1 8.8l0.8 2l0.3 2l-0.2 1l-0.6 1l-1.4 1.2l-1 0.3l-2 0.2l-3.1 -0.7l-1.9 -1l-2 -1.7l-1.1 -1.3l-1.3 -2l-0.8 -2l-0.5 -2l0 -4l0.7 -3l1 -2.2l1 -1.2z"/>
<path fill="#ff1000" d="M55 153.9l0.7 -0.6l1 -0.2l1 0.3l2 1.7l1.9 2.8l4.1 7l0.8 2l0.2 2l-0.4 1l-0.6 0.8l-1 0.6l-2 0.4l-2 -0.3l-1.3 -0.5l-2.8 -2l-2.3 -3l-1.1 -3l-0.3 -3l0.2 -2l0.6 -2z"/>
<path fill="#ff0000" d="M55.8 155.9l0.9 -0.4l1 0.1l1 0.5l1 1l1.2 1.8l2.8 5.1l1.2 2.9l0 2l-1.2 1.2l-2 0.2l-2 -0.6l-2 -1.3l-2.1 -2.5l-1.2 -3l-0.3 -3l0.6 -2.5z"/>
<path fill="#ff0000" d="M56.5 158.9l1.2 -0.5l1.1 0.5l0.9 1.4l1.6 3.6l0.4 1l0 1.3l-0.4 0.7l-0.6 0.4l-1 0l-1 -0.5l-1 -1l-1.1 -1.9l-0.6 -2l0.1 -2z"/>
<path fill="none" stroke="#000" stroke-opacity="0.45" stroke-width="0.55" d="M35.7 30.1l5 -1l5 0.2l5 1.4l5 2.5l5 3.5l4.5 4.2l4.1 5l3.9 6l3 6l3 7l3.2 9l3.7 12l5.3 21l8.3 39l2.1 7l1.9 4.3l3 4.9l3 3.4l7 6l2.5 2.4l2.3 3l0.9 2l0.5 2l-0.1 2l-1 2l-1.7 2l-2.7 2l-3.7 2l-4 1.6l-5 1.7l-3 1.4l-1.7 1.3l-0.8 1l-1.1 2l-0.9 4l-0.4 5l0 5l0.8 15l-0.1 4l-0.4 4M43.4 236.9l-5.1 -17l-1.5 -7l-1.1 -6.1M35.7 50.3l2 -1.2l2 -0.9l4 -0.9l4 0.2l4 1.4l4 2.4l4 3.6l4 4.9l3.2 5.1l2.5 5l2.3 5.7l5.2 16.3l7.2 26l8.6 34.8l2 6.2l2 4.6l1.9 3.4l7.2 9l1.6 3l0.3 2l-0.6 2l-1.4 2l-1.1 1l-3.9 2.5l-9.5 4.5l-3.6 2l-2.4 2l-1.5 1.9l-0.6 1.1l-0.7 2l-0.4 3l0 4l0.7 12l-0.3 3l-1.3 7l0 6M51.1 236.9l-2.4 -3.2l-2 -3.5l-1.4 -3.3l-1.3 -4l-0.8 -4l-0.7 -5l-0.5 -16l-0.7 -6l-1.1 -4l-0.8 -2l-1.1 -2l-2.6 -3.8M35.7 81.2l1.3 -3.3l0.3 -4l1.4 -3l2 -2.7l2 -2l2 -1.3l2 -0.9l2 -0.2l1 0.1l2 0.8l1 0.7l3 3.1l5 7.1l3 5.1l2.6 5.2l2.4 5.3l2.6 6.7l5.2 16l7.9 27l6.2 22l2.4 6l3.9 7l0.8 2l0.2 1l-0.2 1.2l-0.9 1.8l-2.1 2l-4 2.3l-12.3 5.7l-2.7 1.9l-2 2.1l-1 1.7l-1 2.3l-0.8 4l-0.3 6l0.6 8l-0.1 2l-0.4 2.2l-1 2.1l-2 2l-2 1.2l-1 0.3l-2 0.1l-2 -0.6l-1 -0.6l-3 -3l-3 -4.5l-2.3 -5.2l-0.9 -3l-0.5 -4l-0.1 -4l0.9 -8l0 -3l-0.3 -3l-0.9 -3l-1.2 -2l-1.7 -2l-6.1 -5l-2 -2l-1.9 -3l-1 -2.7M48.4 81.9l1.3 -0.4l2 0.3l1 0.4l2 1.6l4 4.2l3 3.7l2 3l2 3.8l2.5 6.4l6.5 20l5 16.6l4.5 16.4l4.4 13l0.4 2l0.1 2l-0.4 1.5l-1 1.6l-2 1.6l-2 1l-3 1l-3 0.4l-17 0.2l-6 -0.8l-4 -1.2l-4 -2.2l-3.2 -3.1l-2.5 -4l-2 -5l-1.5 -7l-0.6 -8l0.1 -7l1 -18l-0.1 -6l-0.8 -11l0.2 -6l0.5 -3l0.8 -3l2.1 -5l2 -3.5l2 -2.8l2 -2.4zM51.2 98.9l1.5 -0.1l1 0.6l3 3.3l3 4.5l3.3 6.7l4.1 11l5.6 18.2l5.1 14.8l2.1 7l1.2 7l0 2l-0.5 2l-0.9 1.1l-2 1.3l-3 0.9l-4 0.5l-5 0l-7 -0.7l-5 -1l-3 -1.2l-3 -2l-2.4 -2.9l-2 -4l-1.3 -4l-1.1 -8l-0.3 -9l0.4 -9l1.8 -21l1 -5l2.9 -7.2l2 -3.6l1 -1.2zM51.4 117.9l1.3 -0.8l1 -0.1l2 1.1l2 2.3l3 5.2l3 7.6l5.5 18.7l5.4 14l0.8 3l0.1 2l-0.2 2l-0.4 1l-0.7 1l-1.3 1l-3.2 1.2l-4 0.5l-4 -0.3l-4 -0.9l-3 -1.2l-3 -1.7l-3 -2.6l-2 -2.8l-1 -2.5l-0.6 -2.7l-0.3 -4l0.1 -18l0.5 -8l1 -5l1.3 -4l2 -3.9zM54.2 140.9l0.5 -0.3l1 0l1 0.4l1 0.7l2 2.5l2 3.7l2.9 7l4.1 7.5l1.6 3.5l0.7 3l-0.3 2.2l-1.1 1.8l-1.3 1l-1.6 0.6l-2 0.4l-3 -0.2l-2.9 -0.8l-2 -1l-2.1 -1.4l-2 -1.8l-2 -2.8l-0.9 -2l-0.7 -3l-0.1 -3l1 -9l0.7 -3.2l1 -2.6l1 -1.8z"/>
</g>
<path d="M36.7 15.9H233.3V236.3H36.7" fill="none" stroke="#111" stroke-width="0.6"/>
<path d="M36.7 15.9V236.3" fill="none" stroke="#555" stroke-width="0.4"/>
<line x1="36.28" x2="36.28" y1="236.3" y2="238.6" stroke="#333" stroke-width="0.8"/>
<line x1="46.65" x2="46.65" y1="236.3" y2="240.3" stroke="#333" stroke-width="0.8"/>
<text x="46.65" y="251.5" font-size="10.2" text-anchor="middle" textLength="8.7" lengthAdjust="spacingAndGlyphs">20</text>
<line x1="57.02" x2="57.02" y1="236.3" y2="238.6" stroke="#333" stroke-width="0.8"/>
<line x1="67.39" x2="67.39" y1="236.3" y2="240.3" stroke="#333" stroke-width="0.8"/>
<text x="67.39" y="251.5" font-size="10.2" text-anchor="middle" textLength="8.7" lengthAdjust="spacingAndGlyphs">40</text>
<line x1="77.76" x2="77.76" y1="236.3" y2="238.6" stroke="#333" stroke-width="0.8"/>
<line x1="88.13" x2="88.13" y1="236.3" y2="240.3" stroke="#333" stroke-width="0.8"/>
<text x="88.13" y="251.5" font-size="10.2" text-anchor="middle" textLength="8.7" lengthAdjust="spacingAndGlyphs">60</text>
<line x1="98.50" x2="98.50" y1="236.3" y2="238.6" stroke="#333" stroke-width="0.8"/>
<line x1="108.86" x2="108.86" y1="236.3" y2="240.3" stroke="#333" stroke-width="0.8"/>
<text x="108.86" y="251.5" font-size="10.2" text-anchor="middle" textLength="8.7" lengthAdjust="spacingAndGlyphs">80</text>
<line x1="119.23" x2="119.23" y1="236.3" y2="238.6" stroke="#333" stroke-width="0.8"/>
<line x1="129.60" x2="129.60" y1="236.3" y2="240.3" stroke="#333" stroke-width="0.8"/>
<text x="129.60" y="251.5" font-size="10.2" text-anchor="middle" textLength="13" lengthAdjust="spacingAndGlyphs">100</text>
<line x1="139.97" x2="139.97" y1="236.3" y2="238.6" stroke="#333" stroke-width="0.8"/>
<line x1="150.34" x2="150.34" y1="236.3" y2="240.3" stroke="#333" stroke-width="0.8"/>
<text x="150.34" y="251.5" font-size="10.2" text-anchor="middle" textLength="13" lengthAdjust="spacingAndGlyphs">120</text>
<line x1="160.71" x2="160.71" y1="236.3" y2="238.6" stroke="#333" stroke-width="0.8"/>
<line x1="171.08" x2="171.08" y1="236.3" y2="240.3" stroke="#333" stroke-width="0.8"/>
<text x="171.08" y="251.5" font-size="10.2" text-anchor="middle" textLength="13" lengthAdjust="spacingAndGlyphs">140</text>
<line x1="181.45" x2="181.45" y1="236.3" y2="238.6" stroke="#333" stroke-width="0.8"/>
<line x1="191.82" x2="191.82" y1="236.3" y2="240.3" stroke="#333" stroke-width="0.8"/>
<text x="191.82" y="251.5" font-size="10.2" text-anchor="middle" textLength="13" lengthAdjust="spacingAndGlyphs">160</text>
<line x1="202.19" x2="202.19" y1="236.3" y2="238.6" stroke="#333" stroke-width="0.8"/>
<line x1="212.55" x2="212.55" y1="236.3" y2="240.3" stroke="#333" stroke-width="0.8"/>
<text x="212.55" y="251.5" font-size="10.2" text-anchor="middle" textLength="13" lengthAdjust="spacingAndGlyphs">180</text>
<line x1="222.92" x2="222.92" y1="236.3" y2="238.6" stroke="#333" stroke-width="0.8"/>
<line x1="233.29" x2="233.29" y1="236.3" y2="240.3" stroke="#333" stroke-width="0.8"/>
<text x="233.29" y="251.5" font-size="10.2" text-anchor="middle" textLength="13" lengthAdjust="spacingAndGlyphs">200</text>
<line x1="34.7" x2="36.7" y1="222.47" y2="222.47" stroke="#222" stroke-width="0.9"/>
<line x1="33.3" x2="36.7" y1="199.50" y2="199.50" stroke="#222" stroke-width="0.9"/>
<text x="30.5" y="202.67" font-size="10.2" text-anchor="end" textLength="8.8" lengthAdjust="spacingAndGlyphs">50</text>
<line x1="34.7" x2="36.7" y1="176.53" y2="176.53" stroke="#222" stroke-width="0.9"/>
<line x1="33.3" x2="36.7" y1="153.55" y2="153.55" stroke="#222" stroke-width="0.9"/>
<text x="30.5" y="156.72" font-size="10.2" text-anchor="end" textLength="13.2" lengthAdjust="spacingAndGlyphs">100</text>
<line x1="34.7" x2="36.7" y1="130.57" y2="130.57" stroke="#222" stroke-width="0.9"/>
<line x1="33.3" x2="36.7" y1="107.60" y2="107.60" stroke="#222" stroke-width="0.9"/>
<text x="30.5" y="110.77" font-size="10.2" text-anchor="end" textLength="13.2" lengthAdjust="spacingAndGlyphs">150</text>
<line x1="34.7" x2="36.7" y1="84.62" y2="84.62" stroke="#222" stroke-width="0.9"/>
<line x1="33.3" x2="36.7" y1="61.65" y2="61.65" stroke="#222" stroke-width="0.9"/>
<text x="30.5" y="64.82" font-size="10.2" text-anchor="end" textLength="13.2" lengthAdjust="spacingAndGlyphs">200</text>
<line x1="34.7" x2="36.7" y1="38.67" y2="38.67" stroke="#222" stroke-width="0.9"/>
<line x1="33.3" x2="36.7" y1="15.70" y2="15.70" stroke="#222" stroke-width="0.9"/>
<text x="30.5" y="18.87" font-size="10.2" text-anchor="end" textLength="13.2" lengthAdjust="spacingAndGlyphs">250</text>
<rect x="236.5" y="15.8" width="15.8" height="4.9" fill="#808080"/>
<rect x="236.5" y="20.40" width="15.8" height="211.60" fill="#0000ff"/>
<rect x="236.5" y="20.40" width="15.8" height="208.29" fill="#0010ff"/>
<rect x="236.5" y="20.40" width="15.8" height="204.99" fill="#0021ff"/>
<rect x="236.5" y="20.40" width="15.8" height="201.68" fill="#0031ff"/>
<rect x="236.5" y="20.40" width="15.8" height="198.38" fill="#0042ff"/>
<rect x="236.5" y="20.40" width="15.8" height="195.07" fill="#0052ff"/>
<rect x="236.5" y="20.40" width="15.8" height="191.76" fill="#0063ff"/>
<rect x="236.5" y="20.40" width="15.8" height="188.46" fill="#0073ff"/>
<rect x="236.5" y="20.40" width="15.8" height="185.15" fill="#0084ff"/>
<rect x="236.5" y="20.40" width="15.8" height="181.84" fill="#0094ff"/>
<rect x="236.5" y="20.40" width="15.8" height="178.54" fill="#00a5ff"/>
<rect x="236.5" y="20.40" width="15.8" height="175.23" fill="#00b5ff"/>
<rect x="236.5" y="20.40" width="15.8" height="171.92" fill="#00c5ff"/>
<rect x="236.5" y="20.40" width="15.8" height="168.62" fill="#00d6ff"/>
<rect x="236.5" y="20.40" width="15.8" height="165.31" fill="#00e6ff"/>
<rect x="236.5" y="20.40" width="15.8" height="162.01" fill="#00f7ff"/>
<rect x="236.5" y="20.40" width="15.8" height="158.70" fill="#00fff7"/>
<rect x="236.5" y="20.40" width="15.8" height="155.39" fill="#00ffe6"/>
<rect x="236.5" y="20.40" width="15.8" height="152.09" fill="#00ffd6"/>
<rect x="236.5" y="20.40" width="15.8" height="148.78" fill="#00ffc5"/>
<rect x="236.5" y="20.40" width="15.8" height="145.47" fill="#00ffb5"/>
<rect x="236.5" y="20.40" width="15.8" height="142.17" fill="#00ffa5"/>
<rect x="236.5" y="20.40" width="15.8" height="138.86" fill="#00ff94"/>
<rect x="236.5" y="20.40" width="15.8" height="135.56" fill="#00ff84"/>
<rect x="236.5" y="20.40" width="15.8" height="132.25" fill="#00ff73"/>
<rect x="236.5" y="20.40" width="15.8" height="128.94" fill="#00ff63"/>
<rect x="236.5" y="20.40" width="15.8" height="125.64" fill="#00ff52"/>
<rect x="236.5" y="20.40" width="15.8" height="122.33" fill="#00ff42"/>
<rect x="236.5" y="20.40" width="15.8" height="119.03" fill="#00ff31"/>
<rect x="236.5" y="20.40" width="15.8" height="115.72" fill="#00ff21"/>
<rect x="236.5" y="20.40" width="15.8" height="112.41" fill="#00ff10"/>
<rect x="236.5" y="20.40" width="15.8" height="109.11" fill="#00ff00"/>
<rect x="236.5" y="20.40" width="15.8" height="105.80" fill="#10ff00"/>
<rect x="236.5" y="20.40" width="15.8" height="102.49" fill="#21ff00"/>
<rect x="236.5" y="20.40" width="15.8" height="99.19" fill="#31ff00"/>
<rect x="236.5" y="20.40" width="15.8" height="95.88" fill="#42ff00"/>
<rect x="236.5" y="20.40" width="15.8" height="92.58" fill="#52ff00"/>
<rect x="236.5" y="20.40" width="15.8" height="89.27" fill="#63ff00"/>
<rect x="236.5" y="20.40" width="15.8" height="85.96" fill="#73ff00"/>
<rect x="236.5" y="20.40" width="15.8" height="82.66" fill="#84ff00"/>
<rect x="236.5" y="20.40" width="15.8" height="79.35" fill="#94ff00"/>
<rect x="236.5" y="20.40" width="15.8" height="76.04" fill="#a5ff00"/>
<rect x="236.5" y="20.40" width="15.8" height="72.74" fill="#b5ff00"/>
<rect x="236.5" y="20.40" width="15.8" height="69.43" fill="#c5ff00"/>
<rect x="236.5" y="20.40" width="15.8" height="66.12" fill="#d6ff00"/>
<rect x="236.5" y="20.40" width="15.8" height="62.82" fill="#e6ff00"/>
<rect x="236.5" y="20.40" width="15.8" height="59.51" fill="#f7ff00"/>
<rect x="236.5" y="20.40" width="15.8" height="56.21" fill="#fff700"/>
<rect x="236.5" y="20.40" width="15.8" height="52.90" fill="#ffe600"/>
<rect x="236.5" y="20.40" width="15.8" height="49.59" fill="#ffd600"/>
<rect x="236.5" y="20.40" width="15.8" height="46.29" fill="#ffc500"/>
<rect x="236.5" y="20.40" width="15.8" height="42.98" fill="#ffb500"/>
<rect x="236.5" y="20.40" width="15.8" height="39.68" fill="#ffa500"/>
<rect x="236.5" y="20.40" width="15.8" height="36.37" fill="#ff9400"/>
<rect x="236.5" y="20.40" width="15.8" height="33.06" fill="#ff8400"/>
<rect x="236.5" y="20.40" width="15.8" height="29.76" fill="#ff7300"/>
<rect x="236.5" y="20.40" width="15.8" height="26.45" fill="#ff6300"/>
<rect x="236.5" y="20.40" width="15.8" height="23.14" fill="#ff5200"/>
<rect x="236.5" y="20.40" width="15.8" height="19.84" fill="#ff4200"/>
<rect x="236.5" y="20.40" width="15.8" height="16.53" fill="#ff3100"/>
<rect x="236.5" y="20.40" width="15.8" height="13.23" fill="#ff2100"/>
<rect x="236.5" y="20.40" width="15.8" height="9.92" fill="#ff1000"/>
<rect x="236.5" y="20.40" width="15.8" height="6.61" fill="#ff0000"/>
<rect x="236.5" y="20.40" width="15.8" height="3.31" fill="#ff0000"/>
<rect x="236.5" y="232" width="15.8" height="4.3" fill="#000"/>
<rect x="236.5" y="15.8" width="15.8" height="220.5" fill="none" stroke="#555" stroke-width="0.7"/>
<line x1="252.3" x2="255.6" y1="232.00" y2="232.00" stroke="#000" stroke-width="0.9"/>
<text x="258.4" y="234.88" font-size="8" textLength="15.6" lengthAdjust="spacingAndGlyphs">0.000</text>
<line x1="252.3" x2="255.6" y1="205.55" y2="205.55" stroke="#000" stroke-width="0.9"/>
<text x="258.4" y="208.43" font-size="8" textLength="15.6" lengthAdjust="spacingAndGlyphs">155.0</text>
<line x1="252.3" x2="255.6" y1="179.10" y2="179.10" stroke="#000" stroke-width="0.9"/>
<text x="258.4" y="181.98" font-size="8" textLength="15.6" lengthAdjust="spacingAndGlyphs">310.0</text>
<line x1="252.3" x2="255.6" y1="152.65" y2="152.65" stroke="#000" stroke-width="0.9"/>
<text x="258.4" y="155.53" font-size="8" textLength="15.6" lengthAdjust="spacingAndGlyphs">465.0</text>
<line x1="252.3" x2="255.6" y1="126.20" y2="126.20" stroke="#000" stroke-width="0.9"/>
<text x="258.4" y="129.08" font-size="8" textLength="15.6" lengthAdjust="spacingAndGlyphs">620.0</text>
<line x1="252.3" x2="255.6" y1="99.75" y2="99.75" stroke="#000" stroke-width="0.9"/>
<text x="258.4" y="102.63" font-size="8" textLength="15.6" lengthAdjust="spacingAndGlyphs">775.0</text>
<line x1="252.3" x2="255.6" y1="73.30" y2="73.30" stroke="#000" stroke-width="0.9"/>
<text x="258.4" y="76.18" font-size="8" textLength="15.6" lengthAdjust="spacingAndGlyphs">930.0</text>
<line x1="252.3" x2="255.6" y1="46.85" y2="46.85" stroke="#000" stroke-width="0.9"/>
<text x="258.4" y="49.73" font-size="8" textLength="13.2" lengthAdjust="spacingAndGlyphs">1085</text>
<line x1="252.3" x2="255.6" y1="20.40" y2="20.40" stroke="#000" stroke-width="0.9"/>
<text x="258.4" y="23.28" font-size="8" textLength="13.2" lengthAdjust="spacingAndGlyphs">1240</text>
<text x="55" y="12.0" font-size="9.2" font-weight="bold" textLength="165.7" lengthAdjust="spacingAndGlyphs">UPPER INTERFACE OBJECTIVE FUNCTION</text>
<text x="57.7" y="268.8" font-size="10.3" textLength="154.6" lengthAdjust="spacingAndGlyphs">Dc: Conventional grating depth [nm]</text>
<text transform="translate(12.7 199.5) rotate(-90)" font-size="10.8" textLength="148.3" lengthAdjust="spacingAndGlyphs">Db: Buried grating depth [nm]</text>
<clipPath id="cR"><rect x="309" y="18.3" width="197.2" height="218.1"/></clipPath>
<g clip-path="url(#cR)">
<rect x="308" y="17.3" width="199.2" height="220.1" fill="#0000ff"/>
<path fill="#0010ff" d="M308 17.3l199 0l0 220l-1 0l-198 0z"/>
<path fill="#0021ff" d="M308 17.3l199 0l0 168.2l-3 -0.6l-11.1 0.4l-17.1 1l-9.1 1l1.2 1l10.9 1l24.2 1.5l2 -0.1l2 -0.4l0 5l0 42l-197.9 0l-1.1 -10.5z"/>
<path fill="#0031ff" d="M308 17.3l187.2 0l6.8 3.8l5 3.6l0 159.2l-3 -0.4l-4 0.1l-30 1.4l-17.8 1.3l-5.1 1l1.4 1l8 1l12 1l24.5 1.4l10 0.5l4 -0.3l0 45.4l-196.7 0l-1.5 -12l-0.8 -10.3z"/>
<path fill="#0042ff" d="M308 17.3l175.4 0l6.6 3.2l6.4 3.8l5.3 4l5.3 5l0 149.2l-4 -0.2l-8 0.2l-31 1.8l-15 1.1l-7.6 0.9l-4.1 1l2.4 1l11.3 1.7l15.7 1.3l16.1 1l19.2 1.1l5 -0.1l0 44l-195.6 0l-1.7 -12l-0.6 -7l-1.1 -7.6z"/>
<path fill="#0052ff" d="M308 17.3l164.2 0l10.8 5l8.4 5l6.6 5.2l9 9l0 139.8l-5 -0.1l-11 0.4l-39.6 2.7l-19.1 2l-3.3 1l3.1 1l13.7 2l9.5 1l17.7 1.4l28 1.8l6 0.1l0 42.7l-194.4 0l-1.9 -12l-1.1 -9l-1.6 -8.8z"/>
<path fill="#0063ff" d="M308.7 17.3l152.8 0l7.3 3l6.3 3l5.9 3.2l6 3.7l4.1 3.1l3.9 3.4l12 11.9l0 131.4l-6 0.1l-11 0.6l-36 2.6l-20.9 2l-8.1 1l-2.8 1l3.8 1l14 2.1l11 1.3l17 1.5l32 2.4l7 0.2l0 41.5l-193.3 0l-3.8 -23l-1.1 -6l-0.8 -2.6l0 -187.2z"/>
<path fill="#0073ff" d="M309.5 18.3l0.6 -1l141.6 0l8.3 3.4l7.8 3.6l7.4 4l6.5 4l5.3 3.9l5 4.2l6 5.8l5.6 6.1l3.4 4.1l0 122.3l-18 1l-42 3.5l-29 3.1l-0.9 1l1.9 0.9l10 1.5l18 2.3l15 1.5l37 3.1l8 0.5l0 40.2l-192.3 0l-5.6 -30l-1.1 -2.8l0 -182.9z"/>
<path fill="#0084ff" d="M311.8 17.3l130.8 0l9.9 4l8.5 4l7.5 4l7.5 4.6l6.2 4.4l6.1 5l5.7 5.5l4.8 5.5l4.4 6l3.8 6.3l0 110.5l-39 3.4l-51 5.1l-2 0l-2 0.4l-1 -0.1l-2 0.6l-1 0l-1 0.2l-1.7 0.6l-0.8 1l1 1l2.5 0.6l3 0.1l1 -0.4l2 0.1l2 -0.5l2 0.5l1 -0.2l2 0.4l5 0.4l25.4 3l54.6 5.3l0 38.7l-191.3 0l-6 -30l-0.6 -2l-1.1 -2l0 -178l1.9 -5z"/>
<path fill="#0094ff" d="M312.7 18.3l0.8 -1l121.2 0l10.3 4.3l9 4.3l8.2 4.4l7.8 4.9l7.2 5.1l6.2 5l5.6 5.4l4.9 5.6l3.5 5l3.5 6l3.2 7l2.9 7.9l0 84.5l-0.5 1.6l0.4 4l-0.3 1l-1.6 1.2l-2.2 0.8l-5.8 1.1l-66 7.1l-11 1l-11 0.6l-6.9 1.2l-1.8 1l0.5 1l1.5 1l3.7 1.5l4 0.9l4 0.6l3 0.1l4 -0.1l6 -0.5l4 0.1l17 1.7l46 5l9 1.3l4 0.9l0 36.5l-190.5 0l-1.5 -8l-5 -22.8l-2 -4.3l0 -40.4l0.7 -3.5l0.1 -2l-0.2 -3l-0.6 -4.7l0 -119.6l2.4 -6.7z"/>
<path fill="#00a5ff" d="M314.4 18.3l0.9 -1l112.6 0l11.2 5l8.9 4.3l8.4 4.7l7.9 5l6.9 5l7.3 6l5.5 5.4l4.8 5.6l4.7 7l3.9 8l2.7 7l6.9 20.6l0 57l-3.9 7.4l-1.2 5l-0.9 1.8l-1.4 1.2l-2.4 1l-4.1 1l-6.4 1l-31.8 4l-20.9 2.3l-10 0.9l-16.7 0.8l-8.3 1l-3.4 1l0.2 1l1.3 1l4.3 2l6.6 2l5 0.8l8 0.6l14 -0.5l15 1.3l23.2 2.8l21.7 3l6.1 1.3l2 0.7l1.9 1l1.1 1l0.6 1l0.4 1.7l-0.1 2.3l-1.3 5l-0.2 2l0.5 4l1.1 4.6l0 12.4l-189.6 0l-1.6 -8l-5.4 -23l-2.4 -5.4l0 -32l4.3 -1.6l0.1 -1l-2 -3l-0.1 -7l-2.3 -12.6l0 -111.2l3 -8.6l1.3 -2.6z"/>
<path fill="#00b5ff" d="M316.2 18.3l1 -1l104.9 0l10.6 5l9.8 5l8.6 5l7.6 5l6.8 5l7.1 6l6.1 6l4.3 5.1l3.5 4.9l2.9 5l2.4 5l2.4 6l8.4 26l2 8l1.1 7l0.7 7l0.1 6l-0.3 6l-0.7 6l-1.1 5l-1.1 4l-2.7 7l-1.9 6l-1.1 2l-0.9 1l-1.5 1l-3.2 1.2l-5 1.2l-10.1 1.6l-21.9 3.2l-21 2.4l-10 0.9l-13.9 0.5l-13.1 1.1l-5.1 0.9l-0.8 1l1 1l1.8 1l4.9 2l6.4 2l4.8 1l10 1.1l4 0.2l14 -0.3l14 1.2l18 2.4l19 3.1l6 1.3l2.9 1l2.1 1.1l1 0.9l0.8 1l0.6 2l-0.5 7l0.2 5l0.9 5.4l2.6 11.6l-187.4 0l-1.9 -9l-5.4 -22l-2.9 -6.8l0 -28.4l3 -0.5l7 0.1l1.2 -0.4l0.4 -1l-0.8 -2l-4.6 -5l-1.2 -2.1l-3.4 -12.9l-1.6 -8l0 -103.4l2 -6.4l2 -4.9l1.8 -3.3z"/>
<path fill="#00c5ff" d="M318 18.3l1.1 -1l97.8 0l10.3 5l9.3 5l8.3 5l7.4 5l6.6 5l7.1 6l6.1 6l5.2 6l3.6 5l3 5l2.5 5l2.7 6.5l3.3 9.5l4 13l2.1 8l1.3 7l0.8 6l0.4 7l0 7l-0.5 7l-0.9 6l-1.4 6l-2 7l-1.5 3l-1.6 1.7l-2 1.2l-5 1.8l-11.3 2.3l-17.2 3l-13.5 1.8l-14 1.5l-19 1l-18 1.3l-3.2 0.4l-2.9 1l0.4 1l1.6 1l4.7 2l9.2 3l6.2 1.3l4.2 0.7l10.8 1l16 0l7 0.5l9 1l16.4 2.5l14.4 3l6.4 2l1.9 1l1.4 1l1.4 2l0.6 2l0.7 13l2.1 14l-182.4 0l-1.8 -9l-5.8 -22l-3.3 -8.5l0 -25l2 -0.4l2 0l7 1l3 0.2l2.2 -0.3l1.3 -1l-0.2 -1l-0.6 -1l-8.5 -9l-2.2 -3.6l-1.7 -4.4l-2.1 -7l-1.3 -6l-0.9 -5.6l0 -95.4l2 -7l2.4 -6l2.6 -4.4z"/>
<path fill="#00d6ff" d="M319.9 18.3l1.1 -1l91.3 0l8.2 4l9 5l8.1 5l8.7 6l7.6 6l6.7 6l5.9 6l5 6l3.6 5l3.1 5l3.1 6l2.5 6l3 8l2.8 9l2.2 8l1.8 8l1.2 7l0.7 7l0.3 7l-0.1 7l-0.6 7l-1.1 7l-1.2 5l-1.4 3l-1.4 1.6l-1.7 1.4l-4.5 2l-11.3 3l-14.4 3l-13.2 2l-14.9 1.6l-42 2.7l-4.8 0.7l-0.6 1l1.3 1l2 1l8 3l6.6 2l9.5 2l14 1.4l15 0.3l6 0.4l16 2l10.6 1.9l11.6 3l5.8 2.1l2 1.1l2 1.6l1.4 2.2l0.8 3l1.9 18l0.4 6l-177.8 0l-2.1 -10l-5.8 -21l-3.8 -10.6l0 -21.3l2 -0.5l2 0l8 1.5l5 0.3l5.4 -0.4l1.7 -1l-0.5 -1l-1.1 -1l-5.5 -4.4l-4.9 -4.6l-2.7 -3l-2 -3l-2.7 -6l-2.2 -7l-1.5 -7l-0.9 -7l-0.1 -87.4l2 -7.8l3 -7.5l3 -5z"/>
<path fill="#00e6ff" d="M321.7 18.3l1.3 -1l85 0l8.2 4l7.8 4.4l7.3 4.6l8.3 6l7.4 6l6.6 6l5.8 6l5.1 6l3.7 5l3.8 6l3.3 6l2.7 5.9l2.8 7.1l2.7 8l2.4 8l1.9 8l1.3 7l1 8l0.6 8l0.1 7l-0.4 8l-0.8 6l-1 4l-1.6 3l-2 2l-1.4 1l-2.6 1.3l-4.2 1.7l-14.1 4l-9.8 2l-10.9 1.6l-12 1.3l-10 0.8l-38 2.2l-3 0.5l-1.1 0.6l0.9 1l1.9 1l7.7 3l9.9 3l7.7 1.7l7 1l11 1.1l16 0.8l7 0.5l8 1l9 1.5l8 1.8l8.2 2.6l3.8 1.6l2.6 1.4l1.4 1l1.9 2l1.2 2l0.7 2l1 5l1 10l0 8l-173.3 0l-1.2 -6l-1.8 -7l-5.2 -18l-4.3 -13.5l0 -16.9l1 -0.4l2 -0.2l9 1.4l6 0.4l8 -0.2l4.1 -0.6l0 -1l-10.1 -6.7l-4 -3.2l-4.1 -4.1l-3.1 -4l-2.8 -5.3l-2.5 -6.7l-1.7 -7l-1 -7l-0.4 -6l-0.1 -6l-0.3 -2.2l0 -70.4l1.1 -5.4l1 -4l1.4 -4l1.5 -3.5l2 -3.7l1.9 -2.8l2.1 -2.5z"/>
<path fill="#00f7ff" d="M323.6 18.3l1.3 -1l79.1 0l8 3.8l7 4l6.6 4.2l6.9 5l7.2 6l6.4 6l5.7 6l5.9 7l3.7 5l3.9 6l3.4 6l3.3 6.8l3 7.1l2.6 7.1l2.5 8l1.9 7.5l1.6 7.5l1.2 8l0.8 8l0.3 8l-0.2 7l-0.8 6l-1 4l-1.7 3l-1.8 2l-2.9 2l-6.6 3l-9.1 3l-11.8 2.6l-12 1.7l-15 1.6l-21 1.4l-25 0.9l-4.3 0.8l1 1l1.8 1l8.5 3.4l8.3 2.6l9.7 2.3l11 1.8l7 0.7l29 2.4l10 1.5l7 1.4l6.6 1.9l6.9 3l4.6 3l2.7 3l1.2 2.1l1.1 2.9l1.4 7l0.3 7l-0.7 6l-168.7 0l-2.9 -12l-7.6 -25l-2.3 -9l-0.6 -1.5l0 -12.3l1 -0.5l2 -0.3l8 1.1l7 0.4l14 -0.2l4.3 -0.7l-0.9 -1l-8.4 -4.4l-6 -3.8l-5 -4l-4.5 -4.8l-3.4 -5l-2.7 -6l-2.2 -7l-1.6 -8l-0.7 -7l-0.1 -8l-0.8 -2.9l0 -66.3l2.6 -10.8l1.4 -4l1.8 -4l2.2 -3.8l2 -2.8l3 -3.2z"/>
<path fill="#00fff7" d="M325.5 18.3l1.4 -1l73.8 0l8.3 4.2l6 3.3l6 3.9l6.3 4.6l5.9 5l6.2 6l5.5 6l4.8 6l4.4 6l4.4 7l3.5 6l3.5 7l3.1 7l2.8 7l2.6 7.9l2 7.1l2 8.4l1.5 8.6l1.2 9l0.5 7l-0.2 6l-0.6 5l-1.2 5l-1.4 3l-1.6 2l-2.5 2l-3.3 2l-4.3 2l-8.8 3l-9.3 2l-21 2.9l-18 1.5l-23 0.9l-16 -0.2l-3 0.4l-1.2 0.5l-1.2 1l1.9 1l2.5 0l9 3.4l9 2.9l12 2.9l10.9 1.8l38.4 4l9.7 1.5l7 1.6l5.9 1.9l2.3 1l3.6 2l3.8 3l1.9 2l1.4 2l2.3 5l0.9 3l0.5 3l0.2 3l-0.2 3l-1.3 6l-164.1 0l-3 -12l-7.6 -25l-2.2 -10l-1.4 -2.7l0 -7.7l1 -1.1l1 -0.5l5 0.5l12 0.2l17 -0.1l6 -0.2l0.4 -0.4l-1.6 -1l-8.8 -3.7l-7 -3.8l-6.3 -4.5l-5.2 -5l-3.7 -5l-3.2 -6l-2.5 -7l-1.8 -8l-0.8 -8l-0.2 -8l-1.3 -4.5l0 -62.6l1.3 -3.9l1 -5l1.1 -4l2.9 -7l2.3 -4l2.4 -3.2l3 -3.1z"/>
<path fill="#00ffe6" d="M327.4 18.3l1.6 -1l68.5 0l13.3 7l4.8 3l5.7 4l4.9 4l4.3 4l3.9 4l4.3 5l3.9 5l3.4 5l7.1 12l3.6 7l3.9 8l5.7 14l2.3 7l2.4 8l3.5 15l1.5 9.3l0.7 7.7l-0.1 6l-1 6l-1.6 4l-2.4 3l-3.9 3l-3.6 2l-4.1 1.7l-3.8 1.3l-7.2 1.8l-13.4 2.2l-12.6 1.7l-14 1.3l-16 0.6l-14 0l-10 -0.5l-6 0.2l-3.8 0.7l-0.6 1l0.7 1l2.2 2l2.5 1.3l2 0.4l6 0.4l15 4l8.3 1.9l10.7 1.8l23 2.5l19.7 2.7l10.7 2l7.6 2.2l4.1 1.8l4.5 3l2.1 2l1.7 2l2.4 4l1.8 5l0.7 5l-0.3 4l-1.4 6l-159.5 0l-3.6 -14l-6.5 -20.3l-1.6 -6.7l-1 -6l-1.8 -4l-0.2 -2l0.6 -2.2l1 -1.1l1 -0.4l10 -0.8l26 -0.1l8 1.4l1 -0.3l0.2 -0.5l-2.9 -2l-11.3 -4.5l-7 -3.6l-6 -4.1l-5.5 -4.8l-4.1 -5l-1.9 -3l-2.1 -4l-2.6 -7l-1.9 -8l-0.9 -8l-0.3 -8l-1.7 -6.4l0 -58.4l1.9 -6.2l1.9 -8l1.5 -4l1.9 -4l2.8 -4.3l3 -3.6l3 -2.7z"/>
<path fill="#00ffd6" d="M329.4 18.3l1.9 -1l63 0l13.7 7.2l5 3.1l5.1 3.7l4.8 4l4.2 4l3.7 4l4 5l5.3 8l5.4 10l7.9 17l5.8 14l4.3 12l4 14l3.4 14l1.4 9l0.2 6l-0.6 5l-1.4 4l-2.1 3l-3.3 3l-5.2 3l-5.2 2l-8.7 2.2l-23 4l-7 0.8l-8 0.6l-22 0.6l-27 -1.1l-2 -0.4l-13 -5l-8 -3.9l-4.3 -2.8l-3.9 -3l-3.8 -3.6l-3 -3.5l-2.6 -3.9l-2.2 -4l-1.7 -4l-1.6 -5l-1.2 -5l-0.8 -5l-0.6 -6l-0.3 -7l-2 -7.8l0 -52.8l4.2 -16.4l1.5 -4l1.9 -4l2.6 -4l3.3 -4l3.5 -3.1zM317.2 181.3l3.8 -0.7l4 -0.2l19 0l4 0.2l4 1l3 1.1l2 1.2l4.6 3.4l3.4 1.3l10 1.1l15 3.2l9 1.5l14 1.8l9 0.8l14 1.9l17.6 3.4l5.4 1.3l5 1.5l2.9 1.2l3.1 1.7l1.8 1.3l2.2 2l3 4l2.3 5l0.9 4l0.2 4l-0.6 4l-1.2 5l-4.6 0l-149.9 0l-4.7 -17l-5.4 -16.2l-1.7 -7.8l-1 -7l-0.9 -3l-0.1 -1l0.7 -1.3l1.1 -0.7z"/>
<path fill="#00ffc5" d="M331.7 18.3l2.1 -1l57 0l5.2 2.3l8.7 4.7l4.9 3l4.3 3l4.9 4l4.2 4l3.7 4l3.8 5l4.4 7l4 8l10.8 26l4.7 12l4.4 13l6.2 20.9l2.1 8.1l1.1 7l0.1 5l-0.6 4l-0.7 2l-1.1 2l-2.5 3l-4 3l-4 2l-5.9 2l-8.6 2l-18.9 3.7l-7 0.9l-9 0.7l-20 0.4l-27 -1.5l-3 -0.7l-11 -3.9l-5 -2.3l-4 -2.2l-4.7 -3.1l-4.3 -3.6l-3.3 -3.4l-3.2 -4l-2.5 -4l-2 -4l-1.5 -4l-1.5 -5l-1.7 -9l-0.9 -12l-1.6 -7l-0.8 -4.5l0 -43.8l1.2 -7.7l3.1 -12l1.7 -4.9l2 -4.1l3 -4.7l3.9 -4.3l4.1 -3.3zM321.9 181.3l4.1 -0.2l17 -0.1l5 0.2l2 0.5l3 1.1l2.6 1.5l5.4 4.1l2 1l3 0.9l12 1.2l12 2l12 1.7l20 2.1l7 0.9l7 1.2l8.2 1.9l11.9 3l6.1 2l2.8 1.3l2.8 1.7l3.4 3l1.5 2l1.7 3l1.6 5l0.3 3l-0.1 4l-0.5 3l-1.3 5l-6.4 0l-142.8 0l-5.5 -19l-5.1 -15l-1.6 -8l-0.5 -6l0 -2l0.2 -1l0.8 -1l1.1 -1l1.2 -1l1.8 -1z"/>
<path fill="#00ffb5" d="M334.2 18.3l2.7 -1l50 0l5.1 1.9l6 2.9l7.3 4.2l5.8 4l4.9 4l4.2 4l4.3 5l3.5 5l3.4 6l3.1 7l15.1 41l3.3 10l9.1 29.9l1.3 5.1l0.7 5l-0.1 4l-1.1 4l-1.8 3l-3.1 3l-3.2 2l-4.6 2l-16.1 4.5l-7 1.7l-7 1.3l-8 1l-7 0.4l-12 0.3l-8 0l-14 -0.7l-12 -1l-4 -1l-9 -3l-5 -2.2l-5 -2.8l-5 -3.5l-4 -3.5l-4 -4.4l-3 -4.1l-2.3 -4l-1.8 -4l-1.4 -4l-1.4 -5l-1.4 -8l-0.9 -11l-1.4 -7l-0.8 -5l-0.6 -8.3l0 -18.5l0.4 -10.2l0.5 -7l1 -7l2.8 -11l1.7 -5l2.6 -5.2l3 -4.3l4 -4.2l5 -3.7zM320.5 182.3l2.5 -0.4l4 -0.2l17 -0.2l4 0.3l3 0.9l2 1l2.4 1.6l4.6 3.9l2 1.1l3 1l4 0.7l10 0.7l23 2.9l16 1.5l11 1.4l7 1.4l5.1 1.4l15.8 5l4.7 2l2.4 1.4l2.1 1.6l1.9 2l1.4 2l1.8 4l0.8 4l0.1 4l-0.6 4l-1.6 6l-3.9 0l-139.7 0l-1.3 -3.5l-5.2 -18.5l-4 -11l-1 -4l-0.9 -6l-0.2 -5l0.4 -2l0.6 -1l2.3 -2.4l2 -1.1z"/>
<path fill="#00ffa5" d="M337.3 18.3l3.4 -1l41.5 0l5.8 1.8l5.4 2.2l5.7 3l5.9 3.6l5 3.6l4.4 3.8l4.8 5l3.2 4l3.2 5l2.6 5l2.4 6l6.4 20.3l8.6 24.7l12.2 41l0.9 4l0.5 4l-0.4 4l-1.2 3l-2.3 3l-2.6 2l-2.7 1.5l-3.4 1.5l-17.8 6l-6.8 1.6l-7 1.2l-7 0.6l-9 0.3l-10 0.1l-11 -0.3l-14 -1l-7 -1l-5 -1.4l-7 -2.5l-5.4 -2.6l-4.9 -3l-4 -3l-4.3 -4l-3.4 -4l-3.4 -5l-2.1 -4l-1.5 -3.5l-1.5 -4.5l-1 -4l-1.3 -7l-0.9 -11l-1.9 -12l-0.6 -9l0 -12l0.5 -17l0.7 -9l1.1 -6l2.6 -10l2.3 -5.7l3 -5.1l4 -4.7l4 -3.4l5 -2.9zM325.8 182.3l18.2 -0.2l4 0.3l2.8 0.9l1.9 1l5.3 4.7l2 1.4l2 1l3 1l4 0.7l12 0.7l21 2.2l16 1.3l7 0.8l7 1.3l6.9 1.9l12.9 5l6.4 3l4.3 3l1.8 2l1.3 2l0.9 2l0.8 3l0.3 3l-0.2 4l-0.8 4l-1.3 5l-8.3 0l-129.6 0l-2.4 -6.7l-4.4 -16.3l-3.9 -11l-1.4 -6l-0.5 -5l0 -2l0.4 -2l1 -2l0.8 -1l1.2 -1l1.8 -1l3 -0.8z"/>
<path fill="#00ff94" d="M341.1 18.3l4.7 -1l30.7 0l6.5 1.5l6 2.1l5.5 2.4l5.4 3l4.6 3l5.1 4l4.2 4l4.4 5l2.8 4l2.8 5l1.8 4l1.8 5l5.6 19.9l9.7 30.1l9.6 37l1 5l0.2 3l-0.4 3l-1.3 3l-1.6 2l-2.4 2l-5.3 3l-10.7 5l-5.6 2l-5.2 1.3l-6 1l-7 0.7l-19 0.4l-21 -0.9l-8 -0.9l-6 -1.3l-6 -1.9l-5.5 -2.4l-5.3 -3l-4.3 -3l-4.6 -4l-3.7 -4l-3 -4l-2.9 -5l-2.9 -7l-1.2 -4l-1.2 -5l-1 -7l-0.7 -8l-1.6 -13l-0.5 -12l0.2 -16l0.5 -13l1.1 -9l1.8 -8l1.8 -5.7l2.6 -5.3l3.4 -5l4 -4.1l5 -3.5l5 -2.4zM322.7 183.3l4.3 -0.4l17 -0.3l4 0.4l2 0.6l2 1l2 1.7l3 3.1l2.6 1.9l2.4 1.2l3 0.9l4 0.6l15 0.8l38 3.2l10 1.8l7.7 2.5l6.3 3l8.6 5l3.7 3l1.7 2l1.2 2l1 3l0.5 4l-0.3 5l-1.1 5l-0.8 3l-4.5 0l-127.3 0l-1.7 -3.8l-1.7 -5.2l-3.8 -15l-4.1 -12l-1.4 -7l0 -4l0.9 -3l0.6 -1l1.5 -1.4l2 -1.1z"/>
<path fill="#00ff84" d="M346.1 18.3l7 -1l15.9 0.1l6 0.8l6 1.4l5.5 1.7l5.5 2.3l5.1 2.7l4.8 3l3.9 3l4.5 4l3.7 4l3.7 5l2.4 4l2.3 5l2 6l4.6 17.9l8.6 28.1l3.7 14l3.1 14l1.7 9l0.8 7l-0.1 5l-0.3 2l-0.6 2l-1.8 3l-1.7 2l-2.2 2l-5.4 4l-5.5 3l-5.6 2l-4.7 1.2l-8 1.1l-8 0.5l-11 0.2l-10 -0.1l-11 -0.5l-11 -1.2l-4 -0.8l-7 -2.1l-5.5 -2.3l-4.5 -2.4l-5.2 -3.6l-3.6 -3l-3.9 -4l-3.3 -4.2l-3 -4.8l-2.4 -5l-2.6 -7.8l-1.5 -7.2l-2.1 -18l-0.6 -8l-0.3 -15l0.4 -20l0.7 -10l1.3 -8l1.9 -7l2.2 -5.3l3 -5l4 -4.6l4 -3.3l5 -2.8l6 -2.3zM340.9 183.3l6.1 0.1l3.1 0.9l1.9 1.1l4 4.3l2 1.7l3 1.7l4 1.2l4 0.5l19 0.9l23 1.5l11 1l6.3 1.1l4 1l5.6 2l4 2l4.5 3l3.7 3l3.7 4l1.9 3l1.2 3l0.8 4l0 4l-0.7 5l-1.1 4l-21.9 0l-104 0l-2 -4.2l-1.7 -4.8l-4.3 -17.5l-4 -12.1l-0.9 -4.4l0 -4l0.6 -2l1.1 -2l1.2 -1l2 -1l2 -0.5l3 -0.3z"/>
<path fill="#00ff73" d="M353.6 18.3l2.4 -0.2l4 0.4l3 -0.4l2 0l6 0.6l5 0.9l5 1.2l5 1.7l5 2.1l5.1 2.7l4.6 3l3.8 3l4.2 4l3.5 4l2.9 4l2.3 4l1.9 4l1.8 5l5.7 23l8.6 30l3.1 13l2.2 11l1 7l0.4 6l-0.4 6l-1.3 5l-0.8 2l-1.7 3l-3.4 4l-3.8 3l-2.7 1.5l-3 1.3l-6 1.8l-7 1.1l-10 0.8l-9 0.2l-11 -0.1l-7 -0.2l-10 -0.9l-5 -0.7l-6 -1.4l-5 -1.6l-4 -1.6l-6 -3.2l-4.3 -3l-4.6 -4l-3.8 -4l-3.3 -4.4l-2.8 -4.6l-2.2 -4.7l-1.8 -5.3l-2.1 -9l-1.1 -8l-1.1 -14l-0.5 -14l0.1 -16l0.6 -16l1.1 -9l1.8 -7.5l2 -5l3.2 -5.5l3.8 -4.6l4 -3.4l5 -2.9l6 -2.4l7 -1.7zM325.7 184.3l18.3 -0.5l4 0.4l3 1.4l1 0.8l3.3 3.9l2.7 2.2l3.9 1.8l4.1 1l6 0.4l16 0.5l30 1.9l7 0.9l4 0.9l3 0.8l4.2 1.6l5.2 3l2.4 2l2 2l1.6 2l2 3l1.9 4l1 3l0.9 4l0.2 4l-0.3 3l-1.3 5l-4.8 0l-115.4 0l-2.6 -4.7l-2 -5.4l-1.3 -4.9l-2.7 -12.4l-3.8 -11.6l-1 -5l0 -2l0.3 -2l0.5 -1.2l1 -1.5l2 -1.4l2 -0.7z"/>
<path fill="#00ff63" d="M353.4 19.3l2.6 -0.1l4 0.5l3 -0.4l3 0l4 0.4l5 0.8l5 1.3l5 1.7l5 2.1l4.9 2.7l4.5 3l3.6 3l3.2 3l3.4 4l2.9 4l2.3 4l2.2 5l1.7 5l5.3 21.5l8.3 31.5l3.8 17l1.5 8l0.8 7l0.2 6l-0.6 5l-1.2 5l-1.3 3l-1.1 2l-1.4 2l-1.9 2l-4.3 3l-4.8 2.1l-7 1.7l-7 0.9l-9 0.5l-17 0.1l-14 -0.7l-7 -1l-5 -1.1l-5.2 -1.5l-5.1 -2l-5.6 -3l-4.4 -3l-4.7 -4l-3.8 -4l-3.2 -4.1l-3 -4.9l-2 -4.1l-2.1 -5.9l-1.9 -8l-1.7 -12l-0.3 -5l-0.6 -19l0 -15l0.5 -17l0.7 -8l1.4 -7l2 -5.5l3 -5.6l3.8 -4.9l4.2 -3.7l5 -3.1l6 -2.4l7 -1.8zM324.6 185.3l3.4 -0.3l16 -0.5l4 0.4l1 0.4l2 1.3l4 4.7l2 1.7l4 1.8l4 1l7 0.6l19 0.4l18 1.2l9 0.4l7 0.9l4.2 1l5.4 2l4.8 3l2.1 2l1.7 2l2.8 5l2.2 6l1 4l0.4 3l0.1 3l-0.5 4l-0.6 3l-3.6 0l-111.7 0l-1.4 -2l-1.9 -3.4l-2.2 -5.6l-1.3 -5l-3 -14l-3.2 -10l-0.7 -3l-0.1 -3l0.7 -3l0.7 -1l1.1 -1z"/>
<path fill="#00ff52" d="M352.5 20.3l3.5 -0.1l4 0.3l6 -0.2l8 1.1l5 1.3l5 1.8l5 2.2l5 2.8l4 2.8l3.5 3l3.9 4l3.1 4l2.6 4l2.1 4l2 5l1.6 5l12.7 52l4 18l1.4 8l0.6 6l0.1 6l-0.5 5l-0.6 3l-1 3l-2 4l-2.6 3l-2.5 2l-1.7 1l-5 2l-4.7 1.2l-10 1.3l-9 0.5l-21 -0.2l-10 -0.9l-7 -1.3l-5 -1.3l-4 -1.4l-4.3 -1.9l-5.2 -3l-4.1 -3l-4.4 -4l-4 -4.4l-3.4 -4.6l-2.6 -4.5l-2 -4.5l-2 -6l-1.7 -8l-1.4 -10l-0.7 -30l0.1 -13l0.5 -14l1 -9l1.2 -5.4l2 -5.2l3 -5.3l4 -4.8l3.8 -3.3l5 -3l5.2 -2.1l7 -1.9zM341.1 185.3l4.9 0l3 0.9l1.4 1.1l3.2 4l2.4 2.1l3.8 1.9l4 1l8.2 0.7l19 0.2l31 2.1l7 1.5l3.8 1.5l1.9 1l2.6 2l2.6 3l2 4l3 8l1 4l0.6 4l-0.1 4l-0.8 5l-19.6 0l-90.7 0l-2.3 -2.8l-1.4 -2.2l-1.6 -3.2l-1.4 -3.8l-1.6 -6l-2.9 -14l-2.9 -10l-0.4 -2l0 -2l0.5 -2l0.5 -1l1.2 -1.2l1.8 -0.8l3.2 -0.5z"/>
<path fill="#00ff42" d="M351.4 21.3l3.6 -0.2l5 0.2l5 -0.1l4 0.4l4 0.7l5 1.3l5 1.8l5 2.4l4.4 2.5l4.1 3l3.4 3l2.9 3l3.1 4l2.6 4l2.1 4l2.1 5l1.7 5l2.1 8l4 17l7.9 34l2.5 12l1.4 8l0.6 6l0.2 5l-0.4 5l-1.1 5l-1.7 4l-2.1 3l-2.2 2l-1.4 1l-4.1 2l-6.1 1.7l-8.4 1.3l-7.6 0.6l-19 0.1l-11 -0.7l-6.6 -1l-5.4 -1.3l-5.4 -1.7l-4.7 -2l-5.3 -3l-4.1 -3l-4.5 -4l-4 -4.3l-3 -3.9l-2.9 -4.8l-2.3 -5l-1.7 -5l-2 -9l-1.4 -10l0 -14l-0.6 -17l0.1 -13l0.5 -13l0.8 -8l1.3 -6l2.2 -5.5l2.7 -4.5l3.3 -4.2l4 -3.6l5 -3.1l5 -2.2l6 -1.8zM338.4 186.3l6.6 -0.2l1.4 0.2l1.6 0.5l2 1.5l3 3.9l2 1.8l3 1.5l5 1.3l8 0.8l20 0l9 0.6l13 1.4l5 0l3 0.2l3.8 0.5l3.6 1l4.2 2l2.4 2l1.4 2l5.7 14l0.8 3l0.5 3l0.2 3l-0.3 4l-0.6 3l-14.7 0l-90.3 0l-2.7 -2.7l-2 -2.7l-2 -3.5l-1.7 -4.1l-1.6 -6l-2.4 -13l-2.7 -10l-0.3 -3l0.3 -2l0.4 -1l1 -1.1l1.7 -0.9l3.3 -0.6z"/>
<path fill="#00ff31" d="M350.5 22.3l4.5 -0.4l10 0.2l7 1l5 1.4l4.8 1.8l4.2 2l5.1 3l4 3l3.2 3l3.6 4l2.8 4l2.4 4l2.4 5l1.8 5l1.6 5l4.7 19l11.2 51l1.1 7l0.7 6l0.1 5l-0.5 5l-1.1 5l-1.9 4l-2.6 3l-2.8 2l-4.5 2l-7.3 1.8l-8 1.1l-7 0.4l-19 0.1l-4 -0.2l-7 -0.8l-6 -1.3l-5 -1.4l-4.7 -1.7l-4.2 -2l-4.9 -3l-3.9 -3l-4.3 -4l-4 -4.4l-3 -4.1l-2.6 -4.5l-1.8 -4l-1.7 -5l-1.9 -8.6l-1.4 -10.4l0.2 -13l-0.8 -19l0.1 -11l0.4 -13l0.8 -8l1.2 -6l1.9 -5l2.6 -4.6l3 -3.9l4 -3.8l5 -3.4l5 -2.3l6 -1.9zM338 187.3l6 -0.2l1.8 0.2l1.2 0.4l2 1.4l3 3.7l2 1.8l3.5 1.7l4.5 1.1l4 0.5l5 0.2l16 -0.1l8 0.3l12 1.3l7 1.4l2 0.8l2 0l1 0.5l0.5 -1l2.5 -0.3l3 0.3l3 1l1.7 1l1.1 1l0.5 1l-0.3 1.1l-3 0.9l0.8 1l4.2 3.8l2 2.3l2 2.8l2.5 5.1l1.1 5l0.1 5l-0.9 5l-7.8 0l-91.4 0l-3.6 -3l-2.6 -3l-2.4 -3.7l-1.5 -3.3l-1.3 -4l-1 -4l-2.1 -13l-1.9 -8l-0.2 -2l0.2 -2l0.4 -1l0.8 -1l1.6 -0.9l3 -0.6z"/>
<path fill="#00ff21" d="M349.8 23.3l5.2 -0.5l8 0.1l4 0.3l4 0.8l5 1.4l4.9 1.9l4.1 2l4.8 3l3.8 3l3.1 3l3.4 4l2.8 4l2.2 4l2.4 5l1.9 5l1.9 6l4.5 18l11 52l0.9 6l0.7 6l0 5l-0.4 4l-1.1 5l-1.9 4l-2.7 3l-3.1 2l-5.1 2l-8.1 1.9l-5 0.7l-7 0.4l-18 0.1l-7 -0.5l-4 -0.5l-5.2 -1.1l-4.8 -1.4l-4.4 -1.6l-4.3 -2l-5 -3l-3.9 -3l-4.4 -4l-3.7 -4l-3 -4l-2.5 -4l-2 -4l-1.8 -5.1l-2 -8.9l-1.2 -10l0.1 -14l-1 -19l0 -10l0.4 -12l0.7 -8l1.1 -6l1.6 -5l2.6 -5l2.9 -4l4 -4l4.2 -3l5.6 -2.9l5 -1.8zM341.3 188.3l2.7 0.1l2.9 0.9l1.2 1l2.9 3.5l1.8 1.5l2.2 1.2l4 1.1l4 0.6l5 0.4l23 0l12 1l7 1.4l4 1.2l4 1.8l3 1.6l3 1.9l3.6 2.8l3.3 3l2.5 3l2 3l1.3 3l0.9 3l0.4 3l-0.1 4l-1.1 5l-13.8 0l-79 0l-5 -3.6l-3 -2.9l-2.6 -3.5l-2.1 -4l-1.4 -4l-1.2 -5l-1.4 -12l-1.3 -8l0.2 -2l0.4 -1l1 -1l1.4 -0.7l3 -0.6z"/>
<path fill="#00ff10" d="M349.3 24.3l4.7 -0.6l4 -0.1l7 0.3l5 0.9l5.2 1.5l4.8 2l3.9 2l4.1 2.6l4 3.2l3 3l2.7 3.2l2.8 4l2.3 4l2.4 5l2.3 6l2 6l2.2 8l2.1 9l10.9 53l1 6l0.5 5l0.1 5l-0.4 4l-0.9 4l-1.8 4l-2.4 3l-2.7 2l-4.2 2l-6.2 2l-6.7 1.2l-7 0.4l-15 0.4l-7 -0.3l-4 -0.4l-6 -1.1l-4.6 -1.2l-5.6 -2l-4.3 -2l-5 -3l-4 -3l-4.4 -4l-3.7 -4l-3.2 -4l-2.5 -4l-2 -4l-1.8 -5l-1.8 -8l-1 -9l-0.2 -4l0 -12l-1.1 -20l0 -10l0.4 -11l0.7 -7l1.1 -6.2l1.5 -4.8l2.6 -5l2.9 -4.1l3.9 -3.9l4.1 -3l5 -2.7l5 -2zM335.2 190.3l5.8 -0.4l3.3 0.4l1.9 1l3.8 3.9l1.5 1.1l2.5 1.1l3.9 0.9l4.1 0.5l6 0.4l23 -0.1l8 0.5l5 0.7l6 1.3l4 1.5l3 1.3l3 1.7l3 2.1l4.8 4.1l1.8 2l2.2 3l1.7 3l0.8 2l0.8 3l0.3 4l-0.3 3l-1.1 4l-0.3 1l-4.7 0l-81.1 0l-7.9 -5.2l-4 -3.7l-3 -4.4l-1.2 -2.7l-1.4 -4l-0.9 -4l-0.5 -4l-0.6 -15l0.3 -1l0.7 -1l1.4 -1z"/>
<path fill="#00ff00" d="M349 25.3l5 -0.7l4 -0.2l6 0.3l5 0.9l5 1.5l5 2.1l4 2.2l4.3 2.9l3.5 3l2.8 3l3.2 4l2.6 4l2.6 5l2.2 5l2.3 6l1.8 6l2.2 8l1.8 8l4.5 23l5.8 28l1 6l0.5 5l0.1 4l-0.3 4l-0.8 4l-1.8 4l-2.3 3l-3.9 3l-4 2l-5.8 2l-5.3 0.9l-7 0.4l-14 0.4l-10 -0.5l-6.6 -1.2l-3.8 -1l-5.6 -2l-4.3 -2l-5.1 -3l-4 -3l-4.5 -4l-3.7 -4l-3.2 -4l-2.6 -4l-2 -4l-1.8 -5l-1.5 -7l-1 -9l-0.4 -17l-1.3 -21l0 -9l0.4 -10l0.7 -7l1.1 -6l1.6 -5l1.9 -4l2.7 -4.1l4 -4.3l4.6 -3.6l4.4 -2.5l5 -2.1zM334.3 193.3l3.7 -0.7l2 0l2 0.2l2 0.9l3.1 2.6l1.8 1l2.8 1l3.3 0.6l5 0.6l7 0.3l21 -0.2l10 0.4l5 0.6l4 0.8l4 1.2l4 1.6l5.3 3.1l4.8 4l3.5 4l1.8 3l1 2l1 3l0.4 2l0.2 3l-0.2 2l-0.7 3l-1.6 4l-1.5 0l-77.4 0l-2.7 -2l-7.9 -4.9l-3 -2.3l-2 -2.1l-1.2 -1.7l-1.7 -3l-0.9 -2l-1.2 -3.9l-0.6 -3.1l-0.3 -4l0.1 -3l1.4 -9l0.3 -1l0.8 -1z"/>
<path fill="#10ff00" d="M356.2 25.3l5.8 0.1l6 1l6 1.9l6.2 3l4.8 3.2l5 4.4l3.8 4.4l3.9 6l2.7 5l2.9 7l2.5 7l2.3 8l2.5 11l4.4 22.7l5.2 25.3l1.8 11l0.2 4l-0.1 4l-0.7 4l-0.9 3l-1.5 2.7l-1.7 2.3l-2.1 2l-2.7 2l-3.6 2l-3.9 1.4l-3 0.8l-4 0.5l-13 0.7l-6 0.1l-7 -0.3l-6 -0.8l-4 -0.8l-5.2 -1.6l-3.8 -1.5l-5 -2.5l-3.2 -2l-4.1 -3l-4.5 -4l-4.6 -5l-3.1 -4l-2.5 -4l-1.8 -4l-1.4 -4l-1.2 -5l-0.7 -5l-0.6 -6l-0.5 -17l-1.3 -18l-0.1 -8l0.2 -9l0.6 -8l1.1 -7l1.3 -5l2 -5l2.4 -4l4 -4.7l4 -3.4l5 -3.2l6 -2.5l5 -1.4zM336.9 200.3l2.1 -0.3l3 -0.1l25 0.5l27 -0.1l5 0.3l4.7 0.7l4.3 1l3.1 1l3.9 1.7l2.3 1.3l4.1 3l4 4l2.1 3l1.1 2l0.8 2l0.9 3l0.3 3l-0.1 2l-0.5 3l-0.7 2l-1.9 4l-0.4 0l-72.4 0l-3.6 -3.1l-9 -5.5l-3 -2.1l-3 -3.2l-2 -3.2l-1 -2.3l-1.1 -3.6l-0.4 -3l0.1 -4l0.4 -2.3l1 -2.2l2 -1.9z"/>
<path fill="#21ff00" d="M355.6 26.3l5.4 0l6 1l6.1 2l5.9 2.9l4.6 3.1l4.5 4l4.3 5l3.3 5l3.1 6l2.6 6l2.5 7l2.3 8l3 13l8.4 42l2.2 13l0.4 4l0.1 4l-0.4 4l-0.8 3l-1.3 3l-1.2 2l-2.6 3l-2.2 2l-3 2l-4.4 2l-3.4 0.9l-3 0.4l-13 0.8l-6 0.1l-6.6 -0.2l-6.4 -0.9l-4 -0.9l-4 -1.2l-4.9 -2l-3.9 -2l-4.2 -2.6l-4 -3l-3.7 -3.4l-4.6 -5l-3.1 -4l-2.5 -4l-1.9 -4l-1.4 -4l-1.2 -5l-0.8 -5l-0.5 -6l-0.7 -17l-1.2 -17l-0.2 -8l0.2 -8l0.5 -8l0.8 -6l1.4 -6l1.9 -5l2.8 -5l3.3 -4l4.5 -4l4.5 -3l4.9 -2.3l5.3 -1.7zM359.6 201.3l29.4 -0.5l6 0.1l5 0.5l5.4 0.9l5.6 1.7l4.7 2.3l4.3 3l3 3l2.2 3l1.6 3l1.2 4l0.3 4l-0.4 3l-0.9 3l-2.4 5l-21.6 0l-45.8 0l-2.2 -2.2l-3 -2.4l-12 -7.8l-2 -1.8l-2 -2.6l-1.2 -2.2l-1.1 -3l-0.6 -3l0 -3l0.9 -2.9l0.9 -1.1l1.7 -1l2.4 -0.6l14 -1.9z"/>
<path fill="#31ff00" d="M356.2 27.3l4.8 0l6 1.2l6 2.1l6 3.3l4.6 3.4l4.4 4.2l3.7 4.8l3.7 6l2.9 6l2.4 6l2.3 7l2.2 8l2.7 12l9.3 48l0.9 6l0.3 4l-0.1 4l-0.4 3l-0.8 3l-1.3 3l-2 3l-1.7 2l-2.2 2l-2.9 2l-2 1l-2.8 1l-5.2 0.9l-15 1.1l-6 0l-4 -0.3l-6 -0.9l-4 -0.9l-5.5 -1.9l-4.4 -2l-3.5 -2l-4.5 -3l-3.6 -3l-4.1 -4l-3.5 -4l-2.9 -4l-2.4 -4l-1.8 -4l-1.3 -4l-1.1 -5l-0.7 -5l-0.5 -6l-1.9 -33l-0.3 -8l0.2 -8l0.6 -8l0.9 -6l1.3 -5.2l2 -5.2l2.6 -4.6l3.4 -4.1l4.3 -3.9l4.7 -3.1l5 -2.4l5 -1.5zM360.3 202.3l9.7 -0.6l16 -0.3l8 0.1l6 0.5l5 0.9l5 1.5l4.1 1.9l4.3 3l3 3l2.1 3l1.5 3l1 4l0.1 4l-0.6 3l-1.1 3l-2.5 5l-19.9 0l-42.3 0l-3 -3l-3.7 -3.1l-12 -8.2l-2 -1.9l-1.4 -1.8l-1.2 -2l-0.7 -2l-0.5 -2l0 -2l0.6 -2l0.7 -1l1.5 -1.1l2 -0.7l14.1 -3.2z"/>
<path fill="#42ff00" d="M350.7 29.3l4.3 -0.7l4 -0.2l4 0.4l5 1.3l5 2l4 2.2l4 2.8l3.6 3.2l2.8 3l3 4l2.5 4l2.6 5l2.2 5l2.2 6l3.8 13l2.9 13l8.8 46l1.2 9l0 4l-0.3 3l-1.1 4l-1.9 4l-3 4l-3.5 3l-3.8 2l-3 0.9l-13 1.5l-5 0.3l-6 0l-7 -0.6l-3 -0.6l-4 -1l-4.4 -1.5l-4.4 -2l-5.1 -3l-4.2 -3l-3.9 -3.4l-4.4 -4.6l-3.2 -4l-2.6 -4l-2.1 -4l-1.5 -4l-1.2 -4l-1.1 -6l-0.9 -8l-2.1 -38l-0.1 -7l0.4 -7l0.8 -7l0.9 -5l1.5 -5l2.2 -5l2.6 -4l3.5 -4l4.3 -3.7l4 -2.5l5 -2.3zM371.4 202.3l13.6 -0.3l8 0.2l7 0.6l5 0.9l5 1.6l2.1 1l3.3 2l3.4 3l1.7 2l1.2 2l1 2l0.9 3l0.3 2l-0.1 3l-0.3 2l-0.9 3l-1.4 3l-2.2 4l-28 0l-28.7 0l-7.3 -6.8l-12.1 -9.2l-2 -2l-1.4 -2l-0.5 -1l-0.5 -2l0.2 -2l0.5 -1l0.8 -0.8l2 -1.1l11.5 -4.1l4.5 -1.3l6 -1.1z"/>
<path fill="#52ff00" d="M352 30.3l4 -0.6l4 0l4 0.6l5 1.6l4 1.8l4.3 2.6l4 3l3.7 3.7l2.7 3.3l2.7 4l2.8 5l2.3 5l2.3 6l2 6l2 7l1.9 8l7.5 38l2.8 16l0.8 8l0 4l-0.5 3l-1.2 4l-2.2 4l-2.3 3l-3.6 3l-4 1.9l-3 0.8l-8 1.1l-6 0.5l-5 0.2l-6 -0.3l-7.8 -1.2l-3.6 -1l-5.2 -2l-3.9 -2l-4.8 -3l-4 -3l-4.3 -4l-3.6 -4l-3 -4l-2.5 -4l-1.9 -4l-1.5 -4l-1.3 -5l-1.3 -7l-0.8 -8l-1.9 -36l0.1 -7l0.3 -6l0.9 -7l1 -5l1.6 -5l2.5 -5l2.7 -4l3.3 -3.5l4 -3.3l4 -2.5l5 -2.3zM367.9 203.3l8.1 -0.5l11 -0.1l8 0.4l6 0.7l5 1.2l3.7 1.3l3.6 2l3.7 3.1l2.3 2.9l1.4 3l0.8 3l0.2 3l-0.5 3l-1.2 3.7l-2 3.9l-2.2 3.4l-17.8 0l-32.8 0l-18.8 -17l-1.7 -2l-0.9 -2l0 -2l0.6 -1l0.9 -1l4.7 -3l7 -3.4l5 -1.6z"/>
<path fill="#63ff00" d="M354.2 31.3l4.8 -0.3l4 0.6l5 1.5l4 1.8l4.1 2.4l3.9 3l4 3.9l3.2 4.1l2.6 4l2.6 5l2.6 6l2.5 7l2.1 7l1.8 7l3.9 19l5 26l2.4 15l0.4 4l0 4l-0.3 3l-0.7 3l-1.7 4l-1.9 3l-2.7 3l-2.8 2.1l-3 1.3l-4 1l-7 1.1l-7 0.7l-6 0l-4 -0.3l-5.2 -0.9l-3.8 -1l-5.4 -2l-3.6 -1.8l-3.8 -2.2l-4.2 -3l-3.5 -3l-4 -4l-3.2 -4l-2.8 -4l-2.2 -4l-1.7 -4l-1.6 -5l-1.1 -5l-1.1 -7l-0.8 -9l-1.6 -33l0.1 -7l0.5 -6l0.9 -6l1.1 -5l1.7 -5l2.3 -4.4l3 -4.2l3.4 -3.4l3.8 -3l4.8 -2.8l5 -2zM367.1 204.3l5.9 -0.7l8 -0.2l9 0.2l7.3 0.7l5.6 1l5.1 1.6l4 2.2l2.8 2.2l1.6 2l1.3 2l0.8 2l0.7 3l0 2l-0.4 3l-0.8 2.7l-1 2.3l-2 3.4l-2.8 3.6l-10.2 0l-33.5 0l-10.7 -9l-4.9 -5l-2.8 -4l-0.8 -2l0 -1l0.5 -2l0.6 -1l1.9 -2l4.1 -3l4.6 -2.3l3 -1z"/>
<path fill="#73ff00" d="M351.3 33.3l3.7 -0.6l4 -0.2l4 0.6l4 1.2l4 1.7l4 2.4l3.8 2.9l3.2 3l2.5 3l2.8 4l2.3 4l2.4 5l2.4 6l2.1 6l3.7 14l5.3 26l4.8 27l1.1 9l0 4l-0.3 3l-1 4l-1.9 4l-2.2 3.1l-3.3 2.9l-3.7 1.9l-3.8 1.1l-5 1l-6.2 0.8l-5 0.2l-4 -0.2l-6 -0.7l-4.6 -1.1l-3.4 -1.1l-4.4 -1.9l-3.7 -2l-4.6 -3l-3.7 -3l-3.2 -3l-3.6 -4l-2.9 -4l-2.5 -4l-2 -4l-1.8 -5l-1.4 -5l-1.5 -8l-1 -9l-0.6 -11l-0.8 -21l-0.1 -6l0.4 -6l0.5 -5l1.2 -6l1.4 -5l1.8 -4l2.5 -4.2l3.1 -3.8l3.9 -3.5l4 -2.7l5 -2.4zM373.5 204.3l6.5 -0.2l9 0.2l6 0.8l6.1 1.2l3.9 1.1l4.2 1.9l2.8 2l2 2.3l1.1 1.7l0.8 2l0.4 2l0.1 3l-0.4 2.6l-0.8 2.4l-1.2 2.6l-1.6 2.4l-2.4 2.8l-2.5 2.2l-10.5 0l-24.8 0l-2.3 -2l-8.9 -6.5l-2.7 -2.5l-2.4 -3l-1.7 -3l-0.7 -3l0.1 -1l0.6 -2l2.2 -3l3.6 -3l3.9 -2l4.1 -1.2z"/>
<path fill="#84ff00" d="M354 34.3l5 -0.2l4 0.6l4.9 1.6l4 2l4.1 2.7l3.8 3.3l3.2 3.6l3.1 4.4l2.8 5l2.3 5l2.3 6l2.3 7l3.7 15l5 25l3.7 21l1.5 11l0.1 4l-0.2 3l-0.6 3l-0.9 3l-1.6 3l-2.2 3l-2.3 2.1l-3.2 1.9l-3.8 1.4l-5 1.2l-4 0.6l-6 0.5l-4 -0.1l-5.4 -0.6l-4.6 -1l-3.3 -1l-4.9 -2l-3.8 -2l-4.6 -3l-3.8 -3l-3.2 -3l-3.6 -4l-3 -4l-2.4 -4l-2 -4l-1.9 -5l-1.2 -4l-1.4 -6l-1 -7l-0.8 -9l-1.1 -31l0.2 -6l0.5 -5l1 -6l1.2 -5l1.9 -5l2.2 -4l3 -3.9l3 -3l4 -3.1l4 -2.2l4 -1.6zM371.9 205.3l5.1 -0.4l6 0l6 0.3l4 0.6l5.5 1.5l5.4 2l3.7 2l2.4 2l2 3l0.9 3l0.1 2l-0.1 2l-1.2 4l-1.7 3l-3 3l-4 2.4l-3.3 1.6l-0.7 0l-22.6 0l-1.4 -1.7l-1.6 -1.3l-8.4 -4.8l-2.9 -2.2l-2 -2l-2.1 -3l-1 -3l0.1 -3l1.2 -3l2.4 -3l2.5 -2l1.8 -1l2.5 -1z"/>
<path fill="#94ff00" d="M351.4 36.3l3.6 -0.6l4 0l3 0.4l4 1.1l4 1.8l3.7 2.3l3.8 3l2.9 3l2.6 3.2l2.5 3.8l2.5 4.7l2.4 5.3l3.8 11l3.5 14l5.3 26l4.2 25l0.9 9l0 4l-0.5 3l-1.2 4l-1.6 3l-2.3 3l-2.4 2l-3.5 2l-3.6 1.3l-6 1.4l-5 0.6l-3 0.1l-6 -0.4l-5.4 -1l-3.5 -1l-5.1 -2l-3.9 -2l-3.2 -2l-4.1 -3l-3.4 -3l-3.4 -3.5l-2.8 -3.5l-2.7 -4l-2.2 -4l-1.8 -4l-1.8 -5l-1.4 -5l-1.4 -8l-1 -9l-0.5 -9l-0.5 -19l0 -7l0.2 -5l0.7 -5l1.2 -6.1l1.4 -4.9l1.7 -4l2.5 -4l3.3 -4l3.4 -3l3.7 -2.6l4 -2zM371.5 206.3l4.5 -0.6l4 -0.1l7 0.3l4 0.6l4 1.2l3.5 1.6l3.2 2l3.5 3l2.1 3l1.2 3l0.2 3l-0.7 3.2l-1 1.8l-0.8 1l-2.2 1.6l-3 1.3l-4.2 1.1l-4.8 0.9l-10 -0.6l-7 -1.9l-5 -1.8l-4 -2.1l-3.2 -2.5l-1.6 -2l-1.2 -3l-0.1 -3l0.9 -3l1.8 -3l2 -2l3.4 -1.9z"/>
<path fill="#a5ff00" d="M354 37.3l4 -0.2l4 0.5l4 1.3l4 1.9l4 2.7l4 3.6l3 3.4l3 4.4l2.4 4.4l2.3 5l2.3 6l1.9 6l3.7 15l4.9 24l3 18l1.9 14l0.1 4l-0.2 3l-1.1 5l-1.4 3l-2.2 3l-2.1 2l-2.9 2l-4.5 2l-3.5 1l-5.6 0.9l-4 0.1l-4 -0.2l-5.5 -0.8l-3.8 -1l-4.7 -1.7l-4.7 -2.3l-3.3 -2l-4.1 -3l-3.5 -3l-3.4 -3.5l-2.9 -3.5l-2.7 -4l-2.2 -4l-1.9 -4l-1.8 -5l-1.4 -5l-1 -5l-1.2 -8l-0.7 -9l-0.5 -27l0.2 -6l0.6 -5l0.9 -5l1.3 -5l1.5 -4l2 -4l2.8 -3.9l3 -3.2l4 -3.2l4 -2.3l4 -1.5zM371.9 207.3l4.1 -0.7l4 -0.2l5 0.3l4 0.5l3 0.8l3 1.3l2 1.2l2.4 1.8l1.9 2l2 3l1.1 3l0.2 3l-0.6 2l-0.6 1l-1.4 1.4l-2.7 1.6l-3.3 1.1l-4 0.7l-4 0.2l-4 -0.3l-6 -1l-4 -0.9l-4 -1.5l-2.5 -1.3l-2.5 -1.9l-1.6 -2.1l-0.8 -2l-0.1 -3l0.8 -3l1 -2l1.7 -2l3 -2z"/>
<path fill="#b5ff00" d="M351.2 39.3l3.8 -0.7l3 0l4 0.6l3.5 1.1l3.5 1.7l3.5 2.3l3.5 3l3 3.3l2.7 3.7l2.4 4l2.5 5l2.1 5l3.5 11l3.5 15l4.6 23l3.5 22l1.1 10l-0.1 4l-0.4 3l-1.2 4l-1.7 3l-2.6 3l-2.5 2l-3.6 2l-2.8 1.1l-4 1l-6 0.5l-4 -0.1l-4.2 -0.5l-4.3 -1l-5.5 -1.9l-4.4 -2.1l-3.5 -2l-4.1 -2.9l-3 -2.6l-3 -2.9l-3.2 -3.6l-2.9 -4l-2.4 -4l-1.9 -4l-2 -5l-2.4 -9l-1.4 -8l-0.7 -8l-0.4 -9l-0.2 -14l0 -7l0.4 -6l0.6 -5l1.1 -5l1.4 -4.8l1.6 -4.2l2.3 -4l2.2 -3l2.9 -3l4 -3.2l4 -2.3zM372.7 208.3l3.3 -0.7l4 -0.2l4 0.1l4 0.6l3 0.8l2 0.9l2.4 1.5l2.3 2l1.6 2l1.5 3l0.5 3l-0.4 2l-1.2 2l-1.7 1.5l-2 1l-3 1l-3 0.5l-4 0l-8 -1.1l-3 -0.8l-3.2 -1.1l-2.8 -1.5l-1.8 -1.5l-1.5 -2l-0.7 -2l-0.1 -2l0.7 -3l1.1 -2l1.9 -2l1.6 -1z"/>
<path fill="#c5ff00" d="M353.2 40.3l3.8 -0.3l4 0.4l4 1.3l3.2 1.6l3.8 2.6l3.6 3.4l3.4 4l2.7 4l2.3 4l2.3 5l3.6 10l3.2 13l4.8 23l2.9 17l2.2 17l0.2 7l-0.9 5l-1.3 3l-1.9 3l-3.1 3l-3 2l-3 1.4l-4 1.1l-3 0.5l-5 0.2l-3 -0.2l-5.4 -1l-3.6 -1l-5.1 -2l-3.9 -2l-3.2 -2l-4.1 -3l-3.3 -3l-3.4 -3.5l-2.8 -3.5l-2.2 -3.3l-2.2 -3.7l-1.9 -4l-1.9 -5l-1.4 -5l-1.1 -5l-1.2 -8l-0.7 -8l-0.3 -23l0.2 -7l0.5 -5l0.6 -4l1.3 -5l1.6 -5l1.8 -4l2.4 -4l2.4 -3l3.1 -3l4.1 -3l3.7 -1.8zM373.9 209.3l3.1 -0.7l3 -0.2l4 0.2l3 0.5l4 1.3l2 1.1l2.2 1.8l1.7 2l1 2l0.6 2l-0.1 2l-0.7 2l-1.7 1.9l-1.7 1.1l-2.3 0.8l-3 0.6l-3 0l-7 -1l-3 -0.8l-3 -1.2l-2 -1.1l-1.6 -1.3l-0.8 -1l-1 -2l-0.3 -2l0.2 -2l0.9 -2l1.6 -1.9l1.5 -1.1z"/>
<path fill="#d6ff00" d="M351 42.3l3 -0.7l3 -0.2l3 0.3l3 0.8l3 1.3l3 1.9l3.3 2.6l3 3l2.7 3.3l2.5 3.7l2.3 4l1.9 4l2 5l1.7 5l3 12l4.6 22l3.1 18l2.4 19l0.1 4l-0.3 4l-1 4l-1.5 3l-2.3 3l-2.2 2l-3.1 2l-2.2 1l-4 1.1l-5 0.5l-4 -0.1l-3.8 -0.5l-4.2 -1l-5 -1.8l-4 -1.9l-4 -2.3l-3 -2.1l-3.5 -2.9l-3.5 -3.4l-3 -3.5l-2.3 -3.1l-2.5 -4l-2 -4l-1.7 -4l-1.7 -5l-1.2 -5l-1.1 -6l-0.8 -6l-0.6 -14l0.2 -20l0.6 -6l0.9 -5l1.5 -5l1.8 -5l1.9 -4l2.6 -4l3.4 -3.8l3 -2.6l3 -1.9zM375.6 210.3l2.4 -0.5l3 -0.1l5 0.4l4 1.4l2 1.2l1.7 1.6l1.5 2l0.8 2l0.1 2l-0.2 1l-0.9 1.7l-1 1l-1 0.7l-2 0.9l-2 0.4l-3 0.2l-6 -0.9l-5 -1.7l-2 -1.2l-1.3 -1.1l-0.9 -1l-0.9 -2l-0.1 -1l0.2 -2l1 -2l0.9 -1l1.4 -1z"/>
<path fill="#e6ff00" d="M352.6 43.3l3.4 -0.5l4 0.4l3.5 1.1l3.5 1.9l4 3.1l3 3l3 3.7l2.9 4.3l2.3 4l1.8 4l3.2 9l2.7 11l4.6 22l3.1 18l2 17l0.4 7l-0.3 3l-0.7 3l-1.3 3l-1.7 2.6l-2.4 2.4l-2.7 2l-1.9 1l-4 1.4l-4 0.6l-4 0l-4 -0.6l-4 -0.9l-4.7 -1.5l-3.3 -1.4l-4 -2.2l-3.7 -2.4l-3.3 -2.6l-3 -2.8l-3 -3.2l-2.7 -3.4l-2.3 -3.4l-2.1 -3.6l-1.8 -4l-1.6 -4l-1.5 -5l-1.1 -5l-1 -6l-0.6 -6l-0.5 -15l0.1 -10l0.3 -7l0.6 -5l1 -5l1.9 -6l2.3 -5.5l2 -3.8l2.6 -3.7l2.7 -3l3.7 -3l3 -1.7zM378.6 211.3l4.4 -0.2l4 0.8l3 1.5l2 1.7l0.9 1.2l0.8 2l0.1 1l-0.4 2l-0.6 1l-1.2 1l-1.6 0.8l-2 0.4l-4 -0.1l-5 -1.1l-2.3 -1l-1.6 -1l-1.9 -2l-0.5 -1l-0.2 -2l0.7 -2l0.9 -1l1.4 -1z"/>
<path fill="#f7ff00" d="M355.3 44.3l3.7 0.1l3 0.9l3 1.5l3.5 2.5l3.5 3.3l4 4.7l3 4.4l2.5 4.6l3.3 8l2.8 10l5 24l3.2 18l1.7 14l0.8 10l0 3l-0.4 3l-1.4 4l-1.5 2.5l-2.2 2.5l-2.6 2l-3.2 1.7l-3 1l-3 0.4l-3 0.1l-4 -0.4l-4.1 -0.8l-3.9 -1.1l-4 -1.6l-4 -2.1l-3.5 -2.2l-3.5 -2.7l-3 -2.7l-3 -3.1l-2.8 -3.5l-2.2 -3.2l-2.2 -3.8l-2 -4l-2.8 -8l-1.2 -5l-0.9 -5l-0.7 -6l-0.5 -7l-0.1 -18l0.3 -6l0.5 -5l0.7 -4l1 -4l1.9 -5.4l2.5 -5.6l2.5 -4.5l2.6 -3.5l3 -3l3.4 -2.5l4 -1.8zM379.1 213.3l2.9 -0.4l3 0.4l2.7 1l2.3 1.8l1.2 2.2l0 2l-0.6 1l-0.6 0.5l-2 0.7l-3 0.2l-3 -0.5l-3 -1.1l-2.4 -1.8l-0.7 -1l-0.2 -1l0.3 -1.7l1 -1.3z"/>
<path fill="#fff700" d="M352.8 46.3l3.2 -0.6l3 0.3l3 1l3 1.6l3.4 2.7l3.6 3.7l3.5 4.3l2.7 4l3.6 7l3.1 9l2.4 10l4.4 22l2.7 16l1.7 14l0.6 10l-0.2 3l-0.6 3l-1.1 3l-1.3 2l-1.9 2l-2.7 2l-2.9 1.5l-3 1l-3 0.5l-4 0l-4 -0.5l-4 -0.9l-3 -0.9l-4 -1.7l-3.6 -2l-3.4 -2.3l-3.4 -2.7l-3.2 -3l-2.7 -3l-2.7 -3.5l-2.3 -3.5l-2.1 -4l-1.8 -4l-1.5 -4l-1.3 -4.8l-0.9 -4.2l-0.9 -6l-0.5 -6l-0.4 -15l0.6 -14l0.7 -5l0.9 -4l1.6 -5l2.6 -6l2.3 -4.4l2.3 -3.6l2.7 -3.3l3 -2.6l3 -2zM381.7 216.3l2.3 -0.2l2 0.9l0.9 1.3l-0.5 1l-0.4 0.2l-2 0.2l-2 -0.6l-0.9 -0.8l-0.3 -1z"/>
<path fill="#ffe600" d="M355.8 47.3l3.2 0.3l3 1.1l3 1.9l3 2.5l3.9 4.2l3.2 4l2.9 4.5l2.3 4.5l2.9 8l2.2 9l5.4 27l2.6 16l1.2 12l0.4 9l-0.5 5l-0.7 2l-0.8 1.7l-1 1.4l-2 1.9l-2 1.3l-3 1.5l-3 1l-3 0.6l-4 0.2l-3 -0.2l-4 -0.7l-3 -0.9l-4 -1.7l-3 -1.6l-3.7 -2.5l-3.3 -2.6l-3 -2.9l-3 -3.4l-4.4 -6.1l-3.6 -7l-1.5 -4l-1.5 -4.8l-1.8 -9.2l-0.6 -6l-0.4 -7l0.1 -17l0.8 -9l0.8 -4l1.1 -4l2 -5.1l3 -6.2l2.8 -4.7l2.2 -3l3 -2.9l3 -2.2l3 -1.3z"/>
<path fill="#ffd600" d="M354.1 49.3l2.9 -0.3l3 0.7l3 1.5l2.8 2.1l3.2 3l4 4.7l3 4.3l2.3 4l2.8 7l2.5 9l5.2 26l2.4 14l1.5 12l0.7 11l-0.3 6l-0.5 2l-0.7 2l-1.4 2l-1.5 1.5l-2.3 1.5l-2.7 1.3l-3 1l-3 0.7l-3 0.4l-3 -0.1l-3 -0.4l-4 -1l-3 -1.2l-3.2 -1.7l-3.2 -2l-3.6 -2.8l-3 -2.8l-3 -3.3l-4.5 -6.1l-3.7 -7l-2.8 -8l-1.8 -9l-0.7 -6l-0.4 -6l0 -15l0.6 -10l0.6 -4l1 -4l1.7 -4.9l2.3 -5.1l2.6 -5l2.7 -4l2.4 -2.9l3 -2.6l3 -1.8z"/>
<path fill="#ffc500" d="M353.7 51.3l2.3 -0.4l3 0.4l3 1.3l3 2.1l3.7 3.6l3.3 3.8l2.9 4.2l2.3 4l2.9 7l2.4 9l5.5 29l1.9 11l1.3 11l0.6 10l-0.3 6l-0.4 2l-0.8 2l-1.3 2l-1 1l-2 1.5l-3 1.6l-3 1.1l-3 0.7l-3 0.3l-3 0l-3 -0.5l-3 -0.8l-3 -1.2l-3.3 -1.7l-5.7 -4l-3 -2.7l-3.1 -3.3l-2.4 -3l-2.5 -3.8l-2 -3.5l-1.7 -3.7l-2.4 -7l-1.9 -9l-0.9 -11l-0.1 -15l0.6 -10l0.6 -4l1 -4l1.3 -4l2.2 -5l2.6 -5l2.6 -4l2.4 -3l2.7 -2.5l2 -1.3z"/>
<path fill="#ffb500" d="M353.6 53.3l2.4 -0.5l3 0.5l2 0.8l3 1.9l3.6 3.3l3.4 3.9l2.9 4.1l2.2 4l2.9 7l2.1 8l7.2 39l1.4 11l0.5 10l-0.3 6l-0.4 2l-0.7 2l-1.3 2l-0.9 1l-2.6 1.9l-2 1.1l-5 1.7l-3 0.4l-3 0l-3 -0.4l-3 -0.8l-3 -1.2l-3 -1.5l-3 -1.9l-2.9 -2.3l-5.1 -5l-4.5 -6l-2.4 -4l-1.5 -3l-2.6 -7.1l-1 -3.9l-1 -5l-1 -11l0 -15l0.6 -10l0.6 -4l0.9 -4l1.3 -4l1.7 -4l2.6 -5l2.4 -4l2.4 -3l2.5 -2.4l2 -1.4z"/>
<path fill="#ffa500" d="M353.5 55.3l2.5 -0.5l3 0.5l2 0.9l3 2l3.3 3.1l3.4 4l2.7 4l2.1 4l2.5 6.4l2 7.6l7 39l1.2 10l0.4 9l-0.3 6l-1 4l-1.2 2l-1.1 1.3l-2 1.6l-2 1.2l-2.3 0.9l-2.7 0.7l-3 0.3l-2.5 0l-2.5 -0.3l-3 -0.8l-3 -1.2l-3 -1.5l-3 -2l-2.7 -2.2l-5.3 -5.3l-4.1 -5.7l-1.9 -3.2l-1.9 -3.8l-2.4 -7l-1.7 -8l-0.9 -11l-0.1 -14l0.6 -10l0.6 -4l0.8 -4l1.3 -4l1.7 -4.1l2.5 -4.9l2.5 -3.9l2 -2.5l2 -2l2 -1.4z"/>
<path fill="#ff9400" d="M353.5 57.3l2.5 -0.4l3 0.5l2 0.9l2.9 2l3.1 3l3 3.6l2.3 3.4l2.1 4l2.4 6l1.8 7l6.5 37l1.3 9l0.6 9l-0.1 7l-0.5 3l-0.6 2l-1.8 3l-2 1.9l-1.7 1.1l-2.3 1l-2 0.5l-2 0.4l-3 0l-3 -0.3l-2.4 -0.6l-2.6 -0.9l-3 -1.5l-3 -1.8l-3 -2.4l-5 -5l-4.1 -5.4l-1.9 -3.3l-1.8 -3.7l-2.2 -6l-1.8 -8l-1 -10l-0.1 -14l0.6 -11l1.3 -8l1.2 -4l1.7 -4l2 -4l2.1 -3.5l2 -2.7l2 -2.1l2 -1.5z"/>
<path fill="#ff8400" d="M353.5 59.3l2.5 -0.4l2 0.2l2 0.8l3 2l3 2.7l3 3.5l2.2 3.2l2.1 4l2.3 6l1.8 7l3.2 20l3.3 18l1.2 9l0.3 8l-0.4 7l-1.1 4l-1.9 3l-1.1 1l-1.9 1.3l-2 0.8l-2 0.4l-2 0.3l-3 -0.1l-5 -1l-3 -1.2l-2.8 -1.5l-5.2 -3.8l-4.1 -4.2l-3.9 -5.1l-2 -3.4l-1.7 -3.5l-2.3 -6.1l-1.6 -6.9l-0.6 -5l-0.4 -5l-0.1 -14l0.5 -11l1.3 -8l1.1 -4l1.6 -4l2 -4l1.8 -3l2.4 -3.1l2 -1.9l2 -1.4z"/>
<path fill="#ff7300" d="M353.7 61.3l2.3 -0.3l2 0.3l2.3 1l2.7 1.9l3 2.9l2.6 3.2l2.4 3.8l1.6 3.2l2.1 6l1.5 6l2.9 19l3.4 19l1 8l0.3 8l-0.6 7l-1.1 4l-1.2 2l-1 1l-1.4 1l-1.5 0.7l-2 0.6l-2 0.2l-4 -0.1l-5 -1.3l-5 -2.5l-4.8 -3.6l-4.2 -4.4l-4 -5.6l-3 -5.9l-2 -5.6l-1.4 -6.5l-0.7 -5l-0.3 -5l0 -14l0.4 -10l1.2 -8l0.8 -3l1.4 -4l1.6 -3.5l2 -3.5l2 -2.8l2 -2.1l2 -1.4z"/>
<path fill="#ff6300" d="M354.4 63.3l2.6 0l2 0.7l2.1 1.3l2.9 2.4l2 2.1l2 2.5l2 3.3l1.7 3.7l1.8 5l1.4 6l2.8 19l3.4 19l0.9 8l0.1 6l-0.4 6l-1.1 5l-1 2l-0.9 1l-1.4 1l-1.3 0.6l-3 0.6l-4.4 -0.2l-4.6 -1.2l-5 -2.5l-4 -3.1l-4.1 -4.2l-3.9 -5.6l-2.8 -5.4l-2.1 -6l-1.3 -6l-0.8 -9l-0.1 -16l0.5 -9l1.3 -8l1.1 -4l1.1 -3l3.1 -5.7l2 -2.7l2 -1.9l2 -1.3z"/>
<path fill="#ff5200" d="M353.1 66.3l1.9 -0.6l1 0l3 0.9l2 1.2l1.8 1.5l3.2 3.4l2.9 4.6l1.9 4l1.6 5l1.3 6l2.4 17l3.5 21l0.6 7l0 7l-0.4 4l-0.6 3l-0.8 2l-1.4 2l-1.7 1l-1.3 0.4l-2 0.3l-3 -0.1l-3 -0.6l-2 -0.7l-4 -1.9l-4 -2.9l-4 -4.1l-3.2 -4.4l-2.8 -5l-2.3 -6l-1.4 -6l-0.9 -8l-0.1 -11l0.3 -12l1 -9l1.5 -6l1.1 -3l1.5 -3l1.3 -2.1l2 -2.5l1.5 -1.4z"/>
<path fill="#ff4200" d="M353.2 69.3l1.8 -0.6l1 0l3 0.8l3 2.1l3 3.2l2.3 3.5l1.9 4l1.7 5l1.3 6l2.3 17l3.3 20l0.5 7l0 6l-0.4 4l-0.7 3l-0.8 2l-0.8 1l-1.3 1l-1.3 0.5l-2 0.3l-3 -0.1l-4 -1.1l-4 -2l-4 -3l-3.4 -3.6l-2.8 -4l-2.8 -5.1l-2 -5.3l-1.3 -5.6l-0.8 -7l-0.2 -10l0.4 -13l0.9 -8.4l1.3 -5.6l1.9 -5l2.8 -4.3l2 -2z"/>
<path fill="#ff3100" d="M354.5 72.3l2.5 -0.1l3 1.2l3 2.6l2 2.6l2 3.6l1.6 4.1l1.4 5l1 5.4l4.7 33.6l0.5 7l-0.2 6l-0.8 5l-0.9 2l-0.8 1l-1.4 1l-1.1 0.3l-2 0.3l-2 -0.2l-4 -1.2l-3 -1.7l-4 -3.2l-3 -3.4l-3 -4.5l-2.2 -4.4l-1.7 -5l-1 -5l-0.7 -8l0 -11l0.4 -10l1 -8l1.2 -5l2 -4.7l1.5 -2.3l1.5 -1.6l1 -0.7z"/>
<path fill="#ff2100" d="M354.9 76.3l2.1 -0.2l1 0.2l1.9 1l2.1 1.8l2 2.7l2 3.8l1.3 3.7l1.3 5l0.9 5l3.7 28l0.5 7l-0.1 6l-0.8 5l-0.8 2l-0.7 1l-1.3 1l-1 0.4l-3 0.1l-3 -1l-3 -1.7l-3 -2.4l-3 -3.4l-2.7 -4l-2 -4l-1.4 -4l-1 -5l-0.7 -6l-0.2 -8l0.4 -11l0.8 -8l1 -5l1.8 -4.9l2 -3.1l1.1 -1z"/>
<path fill="#ff1000" d="M355.3 81.3l1.7 -0.3l2 0.6l2 1.6l2 2.6l1.7 3.5l1.3 3.7l1 4.3l1 6l2.5 22l0.3 6l-0.2 5l-0.7 4l-1.1 3l-0.8 1l-1 0.6l-1 0.3l-2 -0.1l-2 -0.7l-3 -1.9l-3 -2.7l-2 -2.5l-2 -3.4l-1.5 -3.6l-1.2 -4l-0.7 -4l-0.5 -6l-0.1 -7l0.3 -8l0.7 -7l1 -4.7l1.6 -4.3l1.4 -2.2l1 -1z"/>
<path fill="#ff0000" d="M355.2 88.3l0.8 -0.6l1 -0.3l1 0.1l1.5 0.8l1.5 1.5l1.5 2.5l1.2 3l1.5 6l1.8 15.4l0.4 6.6l0 5l-0.4 3.7l-1 3l-1 1.5l-1 0.7l-1 0.4l-2 0.1l-2 -0.7l-2 -1.5l-1.9 -2.2l-1.2 -2l-1.3 -3l-0.9 -3l-0.7 -3.8l-0.5 -5.2l-0.1 -5l0.2 -6l0.4 -5.6l0.8 -4.4l0.9 -3l1.3 -2.7z"/>
<path fill="#ff0000" d="M356.5 97.3l0.5 -0.4l1 -0.3l1 0.3l1 0.9l0.9 1.5l1.1 3.8l0.8 5.2l0.6 7l-0.2 7l-0.9 4l-0.5 1l-1 1l-0.8 0.3l-1 -0.2l-1 -0.6l-1.3 -1.5l-0.7 -1.3l-1 -2.7l-1 -5l-0.3 -6l0.4 -7l0.9 -4.3l1 -2.2z"/>
<path fill="none" stroke="#000" stroke-opacity="0.45" stroke-width="0.55" d="M442.6 17.3l11.4 4.7l10 4.8l9.5 5.5l8.7 6l7.2 6l6.9 7l5.6 7l2.6 4l2.5 4.3M308 25.3l1.9 -5l1.9 -3M507 177.1l-39 3.4l-51 5.1l-2 0l-2 0.4l-1 -0.1l-2 0.6l-1 0l-1 0.2l-1.7 0.6l-0.8 1l1 1l2.5 0.6l3 0.1l1 -0.4l2 0.1l2 -0.5l2 0.5l1 -0.2l2 0.4l5 0.4l30 3.5l50 4.8M315.7 237.3l-6 -30l-0.6 -2l-1.1 -2M400.7 17.3l10.3 5.2l8 4.8l8.3 6l7 6l7 7l6.9 8l6.5 9l5.6 9l5.2 10l4.5 10.4l4 11.5l3 11l2.4 12.1l1.5 12l0.3 9l-0.3 4l-0.7 4l-1 4l-1.4 3l-1.6 2l-2.5 2l-5.3 3l-4.8 2l-5.6 1.8l-4.9 1.2l-11.4 2l-21.7 2.6l-14 1l-16 0.6l-11 0.2l-9 -0.3l-3 0.4l-1.2 0.5l-1.2 1l1.9 1l2.5 0l8 3l7 2.4l7 2l6.9 1.6l12 2l33.1 3.4l12 1.6l9.7 2l4.3 1.3l4 1.6l3.8 2.1l3.8 3l2.6 3l2.3 4l1.6 5l0.6 5l-0.2 5l-1.2 5M308 51.2l1.3 -3.9l1 -5l1.1 -4l1.6 -4.3l2 -4.1l2.3 -3.6l2.7 -3.3l3 -2.8l3.9 -2.9M308 179.9l1 -1.1l1 -0.5l5 0.5l12 0.2l17 -0.1l6 -0.2l0.4 -0.4l-1.6 -1l-5.8 -2.3l-5 -2.4l-7 -4.1l-4 -3l-3 -2.6l-3.3 -3.6l-2.3 -3l-1.8 -3l-2 -4l-1.9 -5l-1.1 -4l-1.1 -5l-0.7 -5l-0.5 -6l0 -6l-1.3 -4.5M322.2 237.3l-3 -12l-7.6 -25l-2.2 -10l-1.4 -2.7M353.6 18.3l2.4 -0.2l4 0.4l3 -0.4l2 0l6 0.6l5 0.9l5 1.2l5 1.7l5 2.1l5.1 2.7l4.6 3l3.8 3l4.2 4l3.5 4l2.9 4l2.3 4l1.9 4l1.8 5l5.7 23l8.6 30l3.1 13l2.2 11l1 7l0.4 6l-0.4 6l-1.3 5l-0.8 2l-1.7 3l-3.4 4l-3.8 3l-2.7 1.5l-3 1.3l-6 1.8l-7 1.1l-10 0.8l-9 0.2l-11 -0.1l-7 -0.2l-10 -0.9l-5 -0.7l-6 -1.4l-5 -1.6l-4 -1.6l-6 -3.2l-4.3 -3l-4.6 -4l-3.8 -4l-3.3 -4.4l-2.8 -4.6l-2.2 -4.7l-1.8 -5.3l-2.1 -9l-1.1 -8l-1.1 -14l-0.5 -14l0.1 -16l0.6 -16l1.1 -9l1.8 -7.5l2 -5l3.2 -5.5l3.8 -4.6l4 -3.4l5 -2.9l6 -2.4l7 -1.7zM331.6 237.3l-2.7 -5l-2.4 -7l-3.5 -15.4l-4.3 -13.6l-0.5 -4l0.3 -3l0.9 -2l0.9 -1l1.4 -1l2.3 -0.8l3 -0.3l17 -0.4l4 0.4l2.6 1.1l1.4 1.1l3.3 3.9l2.4 2l3.3 1.7l4 1.1l5 0.5l18 0.6l30 1.9l7 0.9l4 0.9l3 0.8l4.2 1.6l5.2 3l3.5 3l3.2 4l2.8 5l1.7 5l0.8 5l-0.3 5l-1.3 5M356.2 25.3l5.8 0.1l6 1l6 1.9l6.2 3l4.8 3.2l5 4.4l3.8 4.4l3.9 6l2.7 5l2.9 7l2.5 7l2.3 8l2.5 11l4.4 22.7l5.2 25.3l1.8 11l0.2 4l-0.1 4l-0.7 4l-0.9 3l-1.5 2.7l-1.7 2.3l-2.1 2l-2.7 2l-3.6 2l-3.9 1.4l-3 0.8l-4 0.5l-13 0.7l-6 0.1l-7 -0.3l-6 -0.8l-4 -0.8l-5.2 -1.6l-3.8 -1.5l-5 -2.5l-3.2 -2l-4.1 -3l-4.5 -4l-4.6 -5l-3.1 -4l-2.5 -4l-1.8 -4l-1.4 -4l-1.2 -5l-0.7 -5l-0.6 -6l-0.5 -17l-1.3 -18l-0.1 -8l0.2 -9l0.6 -8l1.1 -7l1.3 -5l2 -5l2.4 -4l4 -4.7l4 -3.4l5 -3.2l6 -2.5l5 -1.4zM354.6 237.3l-3.6 -3.1l-9 -5.5l-4 -3l-3 -3.7l-2.2 -4.7l-1 -4l-0.4 -4l0.5 -4l0.8 -2l1.3 -1.6l2 -1.2l3 -0.5l3 -0.1l25 0.5l21 -0.2l7 0.1l9 1.1l4 0.9l5.5 2l4.5 2.4l2.2 1.6l2.8 2.4l3.2 3.6l1.3 2l1.5 3l1.3 4l0.3 3l-0.1 2l-0.8 4l-2.3 5M351.4 36.3l3.6 -0.6l4 0l3 0.4l4 1.1l4 1.8l3.7 2.3l3.8 3l2.9 3l2.6 3.2l2.5 3.8l2.5 4.7l2.4 5.3l3.8 11l3.5 14l5.3 26l4.2 25l0.9 9l0 4l-0.5 3l-1.2 4l-1.6 3l-2.3 3l-2.4 2l-3.5 2l-3.6 1.3l-6 1.4l-5 0.6l-3 0.1l-6 -0.4l-5.4 -1l-3.5 -1l-5.1 -2l-3.9 -2l-3.2 -2l-4.1 -3l-3.4 -3l-3.4 -3.5l-2.8 -3.5l-2.7 -4l-2.2 -4l-1.8 -4l-1.8 -5l-1.4 -5l-1.4 -8l-1 -9l-0.5 -9l-0.5 -19l0 -7l0.2 -5l0.7 -5l1.2 -6.1l1.4 -4.9l1.7 -4l2.5 -4l3.3 -4l3.4 -3l3.7 -2.6l4 -2zM371.5 206.3l4.5 -0.6l4 -0.1l7 0.3l4 0.6l4 1.2l3.5 1.6l3.2 2l3.5 3l2.1 3l1.2 3l0.2 3l-0.7 3.2l-1 1.8l-0.8 1l-2.2 1.6l-3 1.3l-4.2 1.1l-4.8 0.9l-10 -0.6l-7 -1.9l-5 -1.8l-4 -2.1l-3.2 -2.5l-1.6 -2l-1.2 -3l-0.1 -3l0.9 -3l1.8 -3l2 -2l3.4 -1.9zM355.8 47.3l3.2 0.3l3 1.1l3 1.9l3 2.5l3.9 4.2l3.2 4l2.9 4.5l2.3 4.5l2.9 8l2.2 9l5.4 27l2.6 16l1.2 12l0.4 9l-0.5 5l-0.7 2l-0.8 1.7l-1 1.4l-2 1.9l-2 1.3l-3 1.5l-3 1l-3 0.6l-4 0.2l-3 -0.2l-4 -0.7l-3 -0.9l-4 -1.7l-3 -1.6l-3.7 -2.5l-3.3 -2.6l-3 -2.9l-3 -3.4l-4.4 -6.1l-3.6 -7l-1.5 -4l-1.5 -4.8l-1.8 -9.2l-0.6 -6l-0.4 -7l0.1 -17l0.8 -9l0.8 -4l1.1 -4l2 -5.1l3 -6.2l2.8 -4.7l2.2 -3l3 -2.9l3 -2.2l3 -1.3zM354.4 63.3l2.6 0l2 0.7l2.1 1.3l2.9 2.4l2 2.1l2 2.5l2 3.3l1.7 3.7l1.8 5l1.4 6l2.8 19l3.4 19l0.9 8l0.1 6l-0.4 6l-1.1 5l-1 2l-0.9 1l-1.4 1l-1.3 0.6l-3 0.6l-4.4 -0.2l-4.6 -1.2l-5 -2.5l-4 -3.1l-4.1 -4.2l-3.9 -5.6l-2.8 -5.4l-2.1 -6l-1.3 -6l-0.8 -9l-0.1 -16l0.5 -9l1.3 -8l1.1 -4l1.1 -3l3.1 -5.7l2 -2.7l2 -1.9l2 -1.3z"/>
</g>
<path d="M309 18.3H506.2V236.4H309" fill="none" stroke="#111" stroke-width="0.6"/>
<path d="M309 18.3V236.4" fill="none" stroke="#555" stroke-width="0.4"/>
<line x1="308.92" x2="308.92" y1="236.4" y2="238.7" stroke="#333" stroke-width="0.8"/>
<line x1="319.30" x2="319.30" y1="236.4" y2="240.4" stroke="#333" stroke-width="0.8"/>
<text x="319.30" y="251.5" font-size="10.2" text-anchor="middle" textLength="8.7" lengthAdjust="spacingAndGlyphs">20</text>
<line x1="329.68" x2="329.68" y1="236.4" y2="238.7" stroke="#333" stroke-width="0.8"/>
<line x1="340.07" x2="340.07" y1="236.4" y2="240.4" stroke="#333" stroke-width="0.8"/>
<text x="340.07" y="251.5" font-size="10.2" text-anchor="middle" textLength="8.7" lengthAdjust="spacingAndGlyphs">40</text>
<line x1="350.45" x2="350.45" y1="236.4" y2="238.7" stroke="#333" stroke-width="0.8"/>
<line x1="360.83" x2="360.83" y1="236.4" y2="240.4" stroke="#333" stroke-width="0.8"/>
<text x="360.83" y="251.5" font-size="10.2" text-anchor="middle" textLength="8.7" lengthAdjust="spacingAndGlyphs">60</text>
<line x1="371.22" x2="371.22" y1="236.4" y2="238.7" stroke="#333" stroke-width="0.8"/>
<line x1="381.60" x2="381.60" y1="236.4" y2="240.4" stroke="#333" stroke-width="0.8"/>
<text x="381.60" y="251.5" font-size="10.2" text-anchor="middle" textLength="8.7" lengthAdjust="spacingAndGlyphs">80</text>
<line x1="391.98" x2="391.98" y1="236.4" y2="238.7" stroke="#333" stroke-width="0.8"/>
<line x1="402.36" x2="402.36" y1="236.4" y2="240.4" stroke="#333" stroke-width="0.8"/>
<text x="402.36" y="251.5" font-size="10.2" text-anchor="middle" textLength="13" lengthAdjust="spacingAndGlyphs">100</text>
<line x1="412.75" x2="412.75" y1="236.4" y2="238.7" stroke="#333" stroke-width="0.8"/>
<line x1="423.13" x2="423.13" y1="236.4" y2="240.4" stroke="#333" stroke-width="0.8"/>
<text x="423.13" y="251.5" font-size="10.2" text-anchor="middle" textLength="13" lengthAdjust="spacingAndGlyphs">120</text>
<line x1="433.51" x2="433.51" y1="236.4" y2="238.7" stroke="#333" stroke-width="0.8"/>
<line x1="443.90" x2="443.90" y1="236.4" y2="240.4" stroke="#333" stroke-width="0.8"/>
<text x="443.90" y="251.5" font-size="10.2" text-anchor="middle" textLength="13" lengthAdjust="spacingAndGlyphs">140</text>
<line x1="454.28" x2="454.28" y1="236.4" y2="238.7" stroke="#333" stroke-width="0.8"/>
<line x1="464.66" x2="464.66" y1="236.4" y2="240.4" stroke="#333" stroke-width="0.8"/>
<text x="464.66" y="251.5" font-size="10.2" text-anchor="middle" textLength="13" lengthAdjust="spacingAndGlyphs">160</text>
<line x1="475.05" x2="475.05" y1="236.4" y2="238.7" stroke="#333" stroke-width="0.8"/>
<line x1="485.43" x2="485.43" y1="236.4" y2="240.4" stroke="#333" stroke-width="0.8"/>
<text x="485.43" y="251.5" font-size="10.2" text-anchor="middle" textLength="13" lengthAdjust="spacingAndGlyphs">180</text>
<line x1="495.81" x2="495.81" y1="236.4" y2="238.7" stroke="#333" stroke-width="0.8"/>
<line x1="506.19" x2="506.19" y1="236.4" y2="240.4" stroke="#333" stroke-width="0.8"/>
<text x="506.19" y="251.5" font-size="10.2" text-anchor="middle" textLength="13" lengthAdjust="spacingAndGlyphs">200</text>
<line x1="307" x2="309" y1="222.60" y2="222.60" stroke="#222" stroke-width="0.9"/>
<line x1="305.6" x2="309" y1="199.90" y2="199.90" stroke="#222" stroke-width="0.9"/>
<text x="303" y="203.07" font-size="10.2" text-anchor="end" textLength="8.8" lengthAdjust="spacingAndGlyphs">50</text>
<line x1="307" x2="309" y1="177.20" y2="177.20" stroke="#222" stroke-width="0.9"/>
<line x1="305.6" x2="309" y1="154.50" y2="154.50" stroke="#222" stroke-width="0.9"/>
<text x="303" y="157.67" font-size="10.2" text-anchor="end" textLength="13.2" lengthAdjust="spacingAndGlyphs">100</text>
<line x1="307" x2="309" y1="131.80" y2="131.80" stroke="#222" stroke-width="0.9"/>
<line x1="305.6" x2="309" y1="109.10" y2="109.10" stroke="#222" stroke-width="0.9"/>
<text x="303" y="112.27" font-size="10.2" text-anchor="end" textLength="13.2" lengthAdjust="spacingAndGlyphs">150</text>
<line x1="307" x2="309" y1="86.40" y2="86.40" stroke="#222" stroke-width="0.9"/>
<line x1="305.6" x2="309" y1="63.70" y2="63.70" stroke="#222" stroke-width="0.9"/>
<text x="303" y="66.87" font-size="10.2" text-anchor="end" textLength="13.2" lengthAdjust="spacingAndGlyphs">200</text>
<line x1="307" x2="309" y1="41.00" y2="41.00" stroke="#222" stroke-width="0.9"/>
<line x1="305.6" x2="309" y1="18.30" y2="18.30" stroke="#222" stroke-width="0.9"/>
<text x="303" y="21.47" font-size="10.2" text-anchor="end" textLength="13.2" lengthAdjust="spacingAndGlyphs">250</text>
<rect x="509.2" y="18" width="16" height="4.8" fill="#808080"/>
<rect x="509.2" y="22.50" width="16" height="209.70" fill="#0000ff"/>
<rect x="509.2" y="22.50" width="16" height="206.42" fill="#0010ff"/>
<rect x="509.2" y="22.50" width="16" height="203.15" fill="#0021ff"/>
<rect x="509.2" y="22.50" width="16" height="199.87" fill="#0031ff"/>
<rect x="509.2" y="22.50" width="16" height="196.59" fill="#0042ff"/>
<rect x="509.2" y="22.50" width="16" height="193.32" fill="#0052ff"/>
<rect x="509.2" y="22.50" width="16" height="190.04" fill="#0063ff"/>
<rect x="509.2" y="22.50" width="16" height="186.76" fill="#0073ff"/>
<rect x="509.2" y="22.50" width="16" height="183.49" fill="#0084ff"/>
<rect x="509.2" y="22.50" width="16" height="180.21" fill="#0094ff"/>
<rect x="509.2" y="22.50" width="16" height="176.93" fill="#00a5ff"/>
<rect x="509.2" y="22.50" width="16" height="173.66" fill="#00b5ff"/>
<rect x="509.2" y="22.50" width="16" height="170.38" fill="#00c5ff"/>
<rect x="509.2" y="22.50" width="16" height="167.10" fill="#00d6ff"/>
<rect x="509.2" y="22.50" width="16" height="163.83" fill="#00e6ff"/>
<rect x="509.2" y="22.50" width="16" height="160.55" fill="#00f7ff"/>
<rect x="509.2" y="22.50" width="16" height="157.27" fill="#00fff7"/>
<rect x="509.2" y="22.50" width="16" height="154.00" fill="#00ffe6"/>
<rect x="509.2" y="22.50" width="16" height="150.72" fill="#00ffd6"/>
<rect x="509.2" y="22.50" width="16" height="147.45" fill="#00ffc5"/>
<rect x="509.2" y="22.50" width="16" height="144.17" fill="#00ffb5"/>
<rect x="509.2" y="22.50" width="16" height="140.89" fill="#00ffa5"/>
<rect x="509.2" y="22.50" width="16" height="137.62" fill="#00ff94"/>
<rect x="509.2" y="22.50" width="16" height="134.34" fill="#00ff84"/>
<rect x="509.2" y="22.50" width="16" height="131.06" fill="#00ff73"/>
<rect x="509.2" y="22.50" width="16" height="127.79" fill="#00ff63"/>
<rect x="509.2" y="22.50" width="16" height="124.51" fill="#00ff52"/>
<rect x="509.2" y="22.50" width="16" height="121.23" fill="#00ff42"/>
<rect x="509.2" y="22.50" width="16" height="117.96" fill="#00ff31"/>
<rect x="509.2" y="22.50" width="16" height="114.68" fill="#00ff21"/>
<rect x="509.2" y="22.50" width="16" height="111.40" fill="#00ff10"/>
<rect x="509.2" y="22.50" width="16" height="108.13" fill="#00ff00"/>
<rect x="509.2" y="22.50" width="16" height="104.85" fill="#10ff00"/>
<rect x="509.2" y="22.50" width="16" height="101.57" fill="#21ff00"/>
<rect x="509.2" y="22.50" width="16" height="98.30" fill="#31ff00"/>
<rect x="509.2" y="22.50" width="16" height="95.02" fill="#42ff00"/>
<rect x="509.2" y="22.50" width="16" height="91.74" fill="#52ff00"/>
<rect x="509.2" y="22.50" width="16" height="88.47" fill="#63ff00"/>
<rect x="509.2" y="22.50" width="16" height="85.19" fill="#73ff00"/>
<rect x="509.2" y="22.50" width="16" height="81.91" fill="#84ff00"/>
<rect x="509.2" y="22.50" width="16" height="78.64" fill="#94ff00"/>
<rect x="509.2" y="22.50" width="16" height="75.36" fill="#a5ff00"/>
<rect x="509.2" y="22.50" width="16" height="72.08" fill="#b5ff00"/>
<rect x="509.2" y="22.50" width="16" height="68.81" fill="#c5ff00"/>
<rect x="509.2" y="22.50" width="16" height="65.53" fill="#d6ff00"/>
<rect x="509.2" y="22.50" width="16" height="62.25" fill="#e6ff00"/>
<rect x="509.2" y="22.50" width="16" height="58.98" fill="#f7ff00"/>
<rect x="509.2" y="22.50" width="16" height="55.70" fill="#fff700"/>
<rect x="509.2" y="22.50" width="16" height="52.43" fill="#ffe600"/>
<rect x="509.2" y="22.50" width="16" height="49.15" fill="#ffd600"/>
<rect x="509.2" y="22.50" width="16" height="45.87" fill="#ffc500"/>
<rect x="509.2" y="22.50" width="16" height="42.60" fill="#ffb500"/>
<rect x="509.2" y="22.50" width="16" height="39.32" fill="#ffa500"/>
<rect x="509.2" y="22.50" width="16" height="36.04" fill="#ff9400"/>
<rect x="509.2" y="22.50" width="16" height="32.77" fill="#ff8400"/>
<rect x="509.2" y="22.50" width="16" height="29.49" fill="#ff7300"/>
<rect x="509.2" y="22.50" width="16" height="26.21" fill="#ff6300"/>
<rect x="509.2" y="22.50" width="16" height="22.94" fill="#ff5200"/>
<rect x="509.2" y="22.50" width="16" height="19.66" fill="#ff4200"/>
<rect x="509.2" y="22.50" width="16" height="16.38" fill="#ff3100"/>
<rect x="509.2" y="22.50" width="16" height="13.11" fill="#ff2100"/>
<rect x="509.2" y="22.50" width="16" height="9.83" fill="#ff1000"/>
<rect x="509.2" y="22.50" width="16" height="6.55" fill="#ff0000"/>
<rect x="509.2" y="22.50" width="16" height="3.28" fill="#ff0000"/>
<rect x="509.2" y="232.2" width="16" height="4.4" fill="#000"/>
<rect x="509.2" y="18" width="16" height="218.6" fill="none" stroke="#555" stroke-width="0.7"/>
<line x1="525.2" x2="528.5" y1="232.20" y2="232.20" stroke="#000" stroke-width="0.9"/>
<text x="530.9" y="235.08" font-size="8" textLength="15.8" lengthAdjust="spacingAndGlyphs">0.000</text>
<line x1="525.2" x2="528.5" y1="205.99" y2="205.99" stroke="#000" stroke-width="0.9"/>
<text x="530.9" y="208.87" font-size="8" textLength="15.8" lengthAdjust="spacingAndGlyphs">48.25</text>
<line x1="525.2" x2="528.5" y1="179.77" y2="179.77" stroke="#000" stroke-width="0.9"/>
<text x="530.9" y="182.65" font-size="8" textLength="15.8" lengthAdjust="spacingAndGlyphs">96.50</text>
<line x1="525.2" x2="528.5" y1="153.56" y2="153.56" stroke="#000" stroke-width="0.9"/>
<text x="530.9" y="156.44" font-size="8" textLength="15.8" lengthAdjust="spacingAndGlyphs">144.8</text>
<line x1="525.2" x2="528.5" y1="127.35" y2="127.35" stroke="#000" stroke-width="0.9"/>
<text x="530.9" y="130.23" font-size="8" textLength="15.8" lengthAdjust="spacingAndGlyphs">193.0</text>
<line x1="525.2" x2="528.5" y1="101.14" y2="101.14" stroke="#000" stroke-width="0.9"/>
<text x="530.9" y="104.02" font-size="8" textLength="15.8" lengthAdjust="spacingAndGlyphs">241.3</text>
<line x1="525.2" x2="528.5" y1="74.93" y2="74.93" stroke="#000" stroke-width="0.9"/>
<text x="530.9" y="77.81" font-size="8" textLength="15.8" lengthAdjust="spacingAndGlyphs">289.5</text>
<line x1="525.2" x2="528.5" y1="48.71" y2="48.71" stroke="#000" stroke-width="0.9"/>
<text x="530.9" y="51.59" font-size="8" textLength="15.8" lengthAdjust="spacingAndGlyphs">337.8</text>
<line x1="525.2" x2="528.5" y1="22.50" y2="22.50" stroke="#000" stroke-width="0.9"/>
<text x="530.9" y="25.38" font-size="8" textLength="15.8" lengthAdjust="spacingAndGlyphs">386.0</text>
<text x="327" y="14.5" font-size="9.2" font-weight="bold" textLength="168.2" lengthAdjust="spacingAndGlyphs">LOWER INTERFACE OBJECTIVE FUNCTION</text>
<text x="329.7" y="268.8" font-size="10.3" textLength="154.6" lengthAdjust="spacingAndGlyphs">Dc: Conventional grating depth [nm]</text>
<text transform="translate(284.9 200.6) rotate(-90)" font-size="10.8" textLength="147.0" lengthAdjust="spacingAndGlyphs">Db: Buried grating depth [nm]</text>
</svg>
</body></html>
